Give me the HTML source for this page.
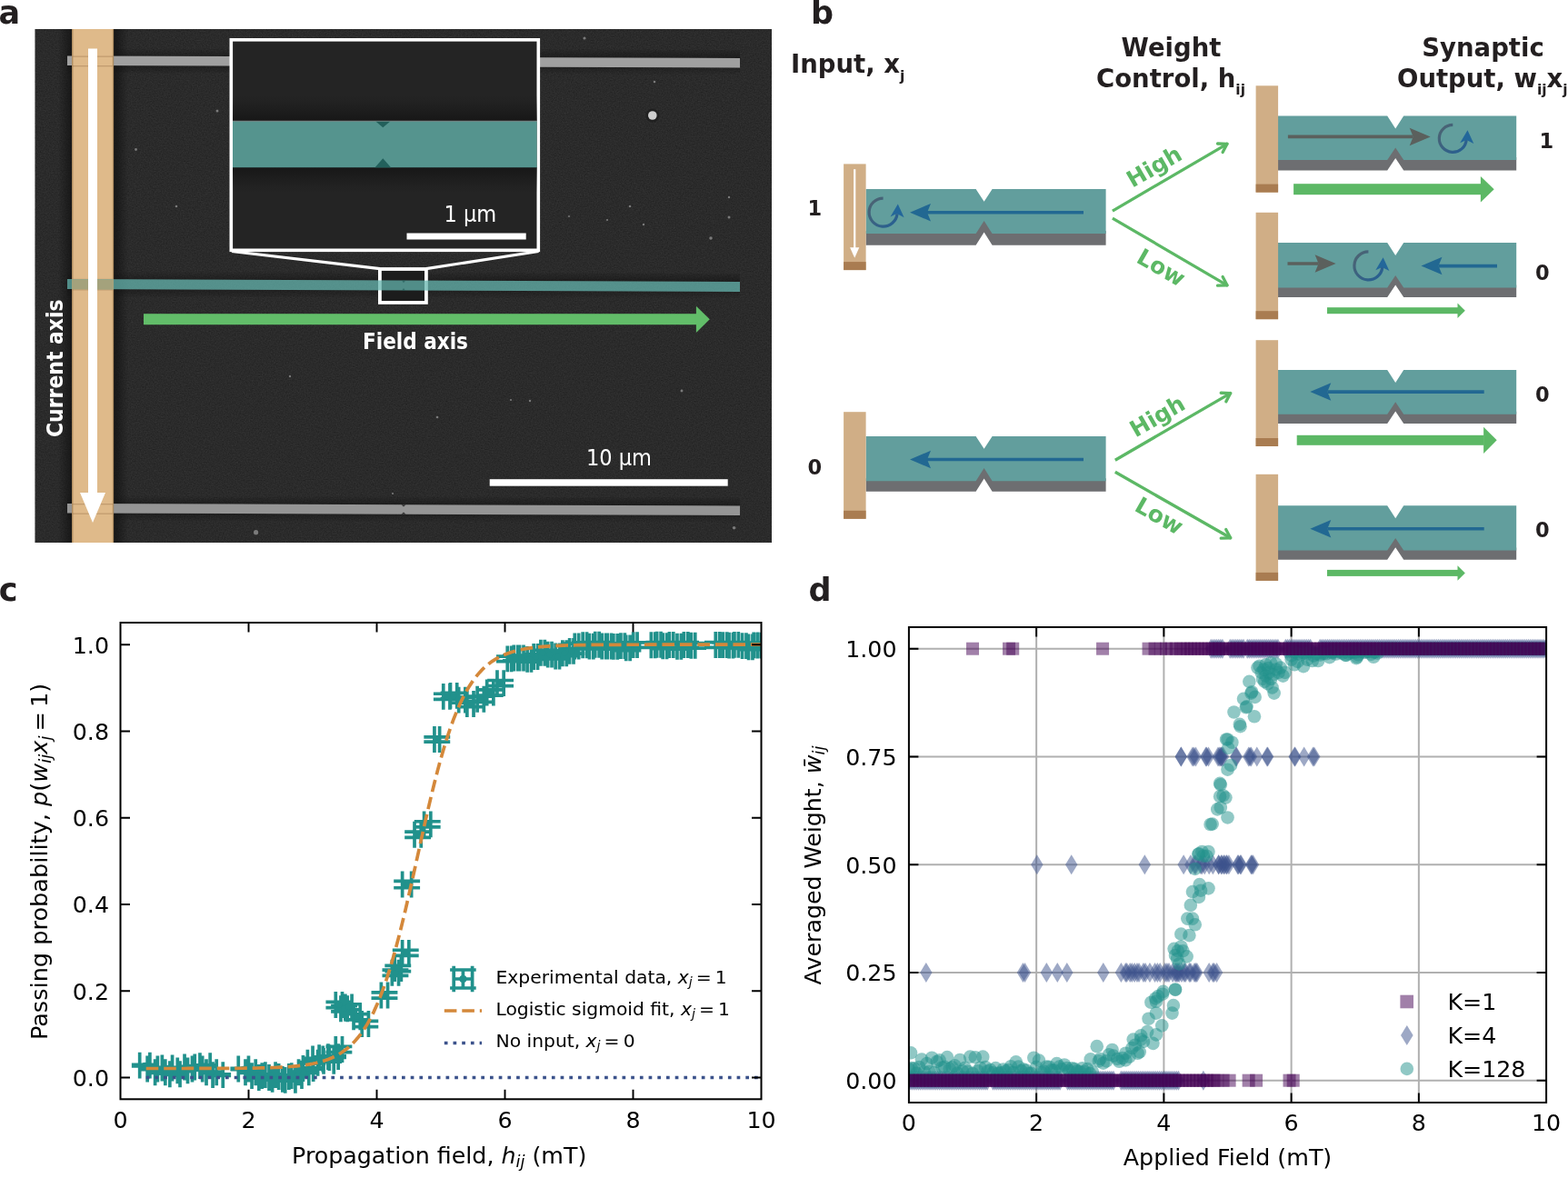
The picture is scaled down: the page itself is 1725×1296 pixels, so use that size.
<!DOCTYPE html>
<html><head><meta charset="utf-8"><title>Figure</title>
<style>html,body{margin:0;padding:0;background:#fff;width:1725px;height:1296px;overflow:hidden}svg{display:block}</style>
</head><body>
<svg width="1725" height="1296" viewBox="0 0 1725 1296">
<defs>
<linearGradient id="rotGrad" x1="0" y1="0" x2="1" y2="1">
<stop offset="0" stop-color="#4f6470"/><stop offset="1" stop-color="#245f94"/></linearGradient>
<linearGradient id="shadeL" x1="0" y1="0" x2="1" y2="0">
<stop offset="0" stop-color="#111" stop-opacity="0"/><stop offset="1" stop-color="#111" stop-opacity="0.75"/></linearGradient>
<linearGradient id="shadeR" x1="0" y1="0" x2="1" y2="0">
<stop offset="0" stop-color="#111" stop-opacity="0.8"/><stop offset="1" stop-color="#111" stop-opacity="0"/></linearGradient>
<linearGradient id="halo" x1="0" y1="0" x2="0" y2="1">
<stop offset="0" stop-color="#111" stop-opacity="0"/><stop offset="1" stop-color="#111" stop-opacity="0.55"/></linearGradient>
<linearGradient id="haloB" x1="0" y1="0" x2="0" y2="1">
<stop offset="0" stop-color="#111" stop-opacity="0.45"/><stop offset="1" stop-color="#111" stop-opacity="0"/></linearGradient>
<linearGradient id="insetShadeTop" x1="0" y1="0" x2="0" y2="1">
<stop offset="0" stop-color="#1b1b1b" stop-opacity="0"/><stop offset="1" stop-color="#151515" stop-opacity="0.9"/></linearGradient>
<linearGradient id="insetShadeBot" x1="0" y1="0" x2="0" y2="1">
<stop offset="0" stop-color="#151515" stop-opacity="0.9"/><stop offset="1" stop-color="#1b1b1b" stop-opacity="0"/></linearGradient>
<filter id="noiseF" x="0" y="0" width="100%" height="100%" color-interpolation-filters="sRGB">
<feTurbulence type="fractalNoise" baseFrequency="0.7" numOctaves="2" seed="4" result="t"/>
<feColorMatrix type="matrix" values="0.33 0.33 0.33 0 0  0.33 0.33 0.33 0 0  0.33 0.33 0.33 0 0  0 0 0 0 0.16"/>
</filter>
</defs>
<rect width="1725" height="1296" fill="#ffffff"/>
<text x="-1.5" y="25.6" font-family="'DejaVu Sans','Liberation Sans',sans-serif" font-weight="bold" font-size="35" fill="#231f20">a</text>
<rect x="38.5" y="32" width="810.5" height="565" fill="#1b1b1b"/>
<rect x="38.5" y="32" width="810.5" height="565" filter="url(#noiseF)"/>
<rect x="64" y="32" width="15" height="565" fill="url(#shadeL)"/>
<rect x="125" y="32" width="16" height="565" fill="url(#shadeR)"/>
<polygon points="74,52.5 814,55 814,64 74,61.5" fill="url(#halo)"/>
<polygon points="74,545 814,547.5 814,556.5 74,554" fill="url(#halo)"/>
<polygon points="74,298 814,301 814,310 74,307" fill="url(#halo)"/>
<polygon points="74,72 814,74.5 814,82.5 74,80" fill="url(#haloB)"/>
<polygon points="74,564.5 814,567 814,575 74,572.5" fill="url(#haloB)"/>
<polygon points="74,318 814,321 814,329 74,326" fill="url(#haloB)"/>
<polygon points="74,61.5 814,64 814,74.5 74,72" fill="#a0a0a0"/>
<polygon points="74,554 814,556.5 814,567 74,564.5" fill="#959595"/>
<polygon points="441.5,555.2 444,557.6 446.5,555.2" fill="#303030"/>
<polygon points="441.5,565.8 444,563.4 446.5,565.8" fill="#303030"/>
<rect x="79" y="32" width="46" height="565" fill="#dfba8a"/>
<rect x="79" y="32" width="1.4" height="565" fill="#9a7a50" opacity="0.7"/>
<rect x="123.8" y="32" width="1.4" height="565" fill="#9a7a50" opacity="0.7"/>
<rect x="80" y="61.5" width="44" height="1.3" fill="#a07850" opacity="0.45"/>
<rect x="80" y="72.0" width="44" height="1.3" fill="#a07850" opacity="0.45"/>
<rect x="80" y="306.8" width="44" height="1.3" fill="#a07850" opacity="0.45"/>
<rect x="80" y="318.2" width="44" height="1.3" fill="#a07850" opacity="0.45"/>
<rect x="80" y="554.0" width="44" height="1.3" fill="#a07850" opacity="0.45"/>
<rect x="80" y="564.5" width="44" height="1.3" fill="#a07850" opacity="0.45"/>
<rect x="417.9" y="296.0" width="51" height="36.9" fill="#1c1c1c" stroke="#ffffff" stroke-width="3.8"/>
<line x1="255" y1="276.5" x2="417.9" y2="295.6" stroke="#ffffff" stroke-width="3.2"/>
<line x1="592.5" y1="276.5" x2="468.9" y2="295.6" stroke="#ffffff" stroke-width="3.2"/>
<polygon points="74,307 814,310 814,321 74,318" fill="#64b5ae" opacity="0.74"/>
<polygon points="442,308.6 444,311.3 446,308.7" fill="#1f5955" opacity="0.6"/>
<polygon points="442,319.7 444,317.1 446,319.7" fill="#1f5955" opacity="0.6"/>
<polygon points="79,307.2 125,307.4 125,318.4 79,318.2" fill="#a4a27c"/>
<rect x="97" y="53.5" width="10" height="492" fill="#ffffff"/>
<polygon points="88,542 116,542 102,575" fill="#ffffff"/>
<rect x="158" y="345.2" width="608.5" height="12" fill="#62bd69"/>
<polygon points="765.9,336.8 780.8,351.2 765.9,365.9" fill="#62bd69"/>
<text transform="translate(69.1,481) rotate(-90)" font-family="'DejaVu Sans Condensed','DejaVu Sans','Liberation Sans',sans-serif" font-weight="bold" font-size="24.4" fill="#ffffff">Current axis</text>
<text x="399" y="383.6" font-family="'DejaVu Sans Condensed','DejaVu Sans','Liberation Sans',sans-serif" font-weight="bold" font-size="24" fill="#ffffff">Field axis</text>
<text x="645" y="512.2" font-family="'DejaVu Sans Condensed','DejaVu Sans','Liberation Sans',sans-serif" font-size="25" fill="#ffffff">10 µm</text>
<rect x="538.7" y="527.2" width="262" height="7.5" fill="#ffffff"/>
<rect x="254.3" y="43.8" width="338" height="231.5" fill="#242424" stroke="#ffffff" stroke-width="3.6"/>
<rect x="256" y="105" width="334.6" height="28" fill="url(#insetShadeTop)"/>
<rect x="256" y="184" width="334.6" height="28" fill="url(#insetShadeBot)"/>
<polygon points="256,133.2 590.6,133.2 590.6,184.2 256,184.2" fill="#55948e"/>
<polygon points="413,133.2 421.3,140.2 429.6,133.2" fill="#22605b"/>
<polygon points="412.5,184.2 421.3,174.2 430,184.2" fill="#22605b"/>
<rect x="256" y="132.6" width="334.6" height="1.2" fill="#9a9a9a" opacity="0.55"/>
<text x="488.5" y="244" font-family="'DejaVu Sans Condensed','DejaVu Sans','Liberation Sans',sans-serif" font-size="25" fill="#ffffff">1 µm</text>
<rect x="447.5" y="256.5" width="131.2" height="7" fill="#ffffff"/>
<circle cx="717.8" cy="127" r="7.5" fill="#1a1a1a" opacity="0.6"/>
<circle cx="717.8" cy="127" r="4.8" fill="#cfcfcf"/>
<circle cx="643" cy="42" r="1.6" fill="#8e8e8e" opacity="0.8"/>
<circle cx="720" cy="90" r="1.3" fill="#8e8e8e" opacity="0.8"/>
<circle cx="239" cy="122" r="1.5" fill="#8e8e8e" opacity="0.8"/>
<circle cx="149.5" cy="164.5" r="1.4" fill="#8e8e8e" opacity="0.8"/>
<circle cx="194" cy="227" r="1.3" fill="#8e8e8e" opacity="0.8"/>
<circle cx="802" cy="239" r="1.5" fill="#8e8e8e" opacity="0.8"/>
<circle cx="782" cy="262" r="1.8" fill="#8e8e8e" opacity="0.8"/>
<circle cx="802" cy="217" r="1.2" fill="#8e8e8e" opacity="0.8"/>
<circle cx="693" cy="227" r="1.3" fill="#8e8e8e" opacity="0.8"/>
<circle cx="708" cy="247" r="1.2" fill="#8e8e8e" opacity="0.8"/>
<circle cx="750" cy="430" r="1.4" fill="#8e8e8e" opacity="0.8"/>
<circle cx="583" cy="441" r="1.2" fill="#8e8e8e" opacity="0.8"/>
<circle cx="481" cy="459" r="1.3" fill="#8e8e8e" opacity="0.8"/>
<circle cx="319" cy="414" r="1.2" fill="#8e8e8e" opacity="0.8"/>
<circle cx="281.6" cy="585.7" r="2.6" fill="#8e8e8e" opacity="0.8"/>
<circle cx="807.6" cy="580.8" r="1.8" fill="#8e8e8e" opacity="0.8"/>
<circle cx="668" cy="242" r="1.1" fill="#8e8e8e" opacity="0.8"/>
<circle cx="626" cy="238" r="1.0" fill="#8e8e8e" opacity="0.8"/>
<circle cx="432" cy="543" r="1.1" fill="#8e8e8e" opacity="0.8"/>
<circle cx="562" cy="440" r="1.1" fill="#8e8e8e" opacity="0.8"/>
<text x="892" y="25.6" font-family="'DejaVu Sans','Liberation Sans',sans-serif" font-weight="bold" font-size="35" fill="#231f20">b</text>
<text x="870" y="80.3" font-family="'DejaVu Sans','Liberation Sans',sans-serif" font-weight="bold" fill="#231f20" font-size="27.5">Input, x<tspan font-size="15.5" dy="8.3">j</tspan></text>
<text x="1288.5" y="62.4" text-anchor="middle" font-family="'DejaVu Sans','Liberation Sans',sans-serif" font-weight="bold" fill="#231f20" font-size="27.5">Weight</text>
<text x="1288" y="95.9" text-anchor="middle" font-family="'DejaVu Sans','Liberation Sans',sans-serif" font-weight="bold" fill="#231f20" font-size="27.5">Control, h<tspan font-size="15.5" dy="8">ij</tspan></text>
<text x="1631.5" y="62.4" text-anchor="middle" font-family="'DejaVu Sans','Liberation Sans',sans-serif" font-weight="bold" fill="#231f20" font-size="27.5">Synaptic</text>
<text x="1537" y="95.9" font-family="'DejaVu Sans','Liberation Sans',sans-serif" font-weight="bold" fill="#231f20" font-size="27.5">Output, w<tspan font-size="15.5" dy="8">ij</tspan><tspan dy="-8">x</tspan><tspan font-size="15.5" dy="8">j</tspan></text>
<polygon points="952.6,254.1 1073.6,254.1 1082.6,239.9 1091.6,254.1 1216.6,254.1 1216.6,269.7 1091.6,269.7 1082.6,255.5 1073.6,269.7 952.6,269.7" fill="#6d6e71"/>
<polygon points="952.6,208.1 1073.6,208.1 1082.6,221.8 1091.6,208.1 1216.6,208.1 1216.6,257.1 1091.6,257.1 1082.6,242.9 1073.6,257.1 952.6,257.1" fill="#629e9d"/>
<rect x="928.1" y="180.4" width="24.5" height="116.7" fill="#d0ae86"/>
<rect x="928.1" y="288.1" width="24.5" height="9" fill="#a97c51"/>
<text x="888.5" y="237.3" font-family="'DejaVu Sans','Liberation Sans',sans-serif" font-weight="bold" fill="#231f20" font-size="22.5">1</text>
<line x1="1192" y1="233.7" x2="1020" y2="233.7" stroke="#226892" stroke-width="3.6"/>
<polygon points="1001,233.7 1024,223.95 1020,233.7 1024,243.45" fill="#226892"/>
<polygon points="952.6,526.2 1073.6,526.2 1082.6,512 1091.6,526.2 1216.6,526.2 1216.6,540.7 1091.6,540.7 1082.6,526.5 1073.6,540.7 952.6,540.7" fill="#6d6e71"/>
<polygon points="952.6,480 1073.6,480 1082.6,493.7 1091.6,480 1216.6,480 1216.6,529.2 1091.6,529.2 1082.6,515 1073.6,529.2 952.6,529.2" fill="#629e9d"/>
<rect x="928.1" y="453.2" width="24.5" height="117.6" fill="#d0ae86"/>
<rect x="928.1" y="561.8" width="24.5" height="9" fill="#a97c51"/>
<text x="888.5" y="522" font-family="'DejaVu Sans','Liberation Sans',sans-serif" font-weight="bold" fill="#231f20" font-size="22.5">0</text>
<line x1="1192" y1="505.5" x2="1020" y2="505.5" stroke="#226892" stroke-width="3.6"/>
<polygon points="1001,505.5 1024,495.75 1020,505.5 1024,515.25" fill="#226892"/>
<line x1="940.2" y1="186.2" x2="940.2" y2="276" stroke="#ffffff" stroke-width="2.2"/>
<polygon points="935.1,272.3 940.2,283.8 945.3,272.3" fill="#ffffff"/>
<path d="M 971.6 218.1 A 15.5 15.5 0 1 0 987.02 235.22" fill="none" stroke="url(#rotGrad)" stroke-width="3.2"/>
<polygon points="987.8,224.4 979.5,238.4 986.6,235.1 994.6,239.2" fill="#23679a"/>
<line x1="1223.9" y1="232.1" x2="1350" y2="158.3" stroke="#5cb865" stroke-width="3.3"/>
<line x1="1350" y1="158.3" x2="1339.5" y2="158" stroke="#5cb865" stroke-width="3.3" stroke-linecap="round"/>
<line x1="1350" y1="158.3" x2="1345.13" y2="167.6" stroke="#5cb865" stroke-width="3.3" stroke-linecap="round"/>
<line x1="1223.9" y1="240.1" x2="1350" y2="313.8" stroke="#5cb865" stroke-width="3.3"/>
<line x1="1350" y1="313.8" x2="1345.12" y2="304.5" stroke="#5cb865" stroke-width="3.3" stroke-linecap="round"/>
<line x1="1350" y1="313.8" x2="1339.5" y2="314.11" stroke="#5cb865" stroke-width="3.3" stroke-linecap="round"/>
<line x1="1226.8" y1="506.2" x2="1353.7" y2="432.6" stroke="#5cb865" stroke-width="3.3"/>
<line x1="1353.7" y1="432.6" x2="1343.21" y2="432.25" stroke="#5cb865" stroke-width="3.3" stroke-linecap="round"/>
<line x1="1353.7" y1="432.6" x2="1348.79" y2="441.88" stroke="#5cb865" stroke-width="3.3" stroke-linecap="round"/>
<line x1="1226.8" y1="519.3" x2="1353.7" y2="591.8" stroke="#5cb865" stroke-width="3.3"/>
<line x1="1353.7" y1="591.8" x2="1348.73" y2="582.55" stroke="#5cb865" stroke-width="3.3" stroke-linecap="round"/>
<line x1="1353.7" y1="591.8" x2="1343.21" y2="592.21" stroke="#5cb865" stroke-width="3.3" stroke-linecap="round"/>
<text transform="translate(1274,190.8) rotate(-30)" font-family="'DejaVu Sans','Liberation Sans',sans-serif" font-weight="bold" fill="#5cb865" font-size="25" text-anchor="middle">High</text>
<text transform="translate(1273.2,301.9) rotate(30)" font-family="'DejaVu Sans','Liberation Sans',sans-serif" font-weight="bold" fill="#5cb865" font-size="25" text-anchor="middle">Low</text>
<text transform="translate(1277.5,465.5) rotate(-30)" font-family="'DejaVu Sans','Liberation Sans',sans-serif" font-weight="bold" fill="#5cb865" font-size="25" text-anchor="middle">High</text>
<text transform="translate(1271,575) rotate(30)" font-family="'DejaVu Sans','Liberation Sans',sans-serif" font-weight="bold" fill="#5cb865" font-size="25" text-anchor="middle">Low</text>
<polygon points="1406,173 1526.2,173 1535.2,159.5 1544.2,173 1668.2,173 1668.2,187.5 1544.2,187.5 1535.2,174 1526.2,187.5 1406,187.5" fill="#6d6e71"/>
<polygon points="1406,127.6 1526.2,127.6 1535.2,141.6 1544.2,127.6 1668.2,127.6 1668.2,176 1544.2,176 1535.2,162.5 1526.2,176 1406,176" fill="#629e9d"/>
<rect x="1381.6" y="94.3" width="24.5" height="117.3" fill="#d0ae86"/>
<rect x="1381.6" y="202.6" width="24.5" height="9" fill="#a97c51"/>
<polygon points="1406,313.4 1526.2,313.4 1535.2,299.9 1544.2,313.4 1668.2,313.4 1668.2,326.9 1544.2,326.9 1535.2,313.4 1526.2,326.9 1406,326.9" fill="#6d6e71"/>
<polygon points="1406,267 1526.2,267 1535.2,281 1544.2,267 1668.2,267 1668.2,316.4 1544.2,316.4 1535.2,302.9 1526.2,316.4 1406,316.4" fill="#629e9d"/>
<rect x="1381.6" y="233.8" width="24.5" height="117.4" fill="#d0ae86"/>
<rect x="1381.6" y="342.2" width="24.5" height="9" fill="#a97c51"/>
<polygon points="1406,452.7 1526.2,452.7 1535.2,439.2 1544.2,452.7 1668.2,452.7 1668.2,466.1 1544.2,466.1 1535.2,452.6 1526.2,466.1 1406,466.1" fill="#6d6e71"/>
<polygon points="1406,407 1526.2,407 1535.2,421 1544.2,407 1668.2,407 1668.2,455.7 1544.2,455.7 1535.2,442.2 1526.2,455.7 1406,455.7" fill="#629e9d"/>
<rect x="1381.6" y="374.2" width="24.5" height="116.8" fill="#d0ae86"/>
<rect x="1381.6" y="482" width="24.5" height="9" fill="#a97c51"/>
<polygon points="1406,602.5 1526.2,602.5 1535.2,589 1544.2,602.5 1668.2,602.5 1668.2,615.8 1544.2,615.8 1535.2,602.3 1526.2,615.8 1406,615.8" fill="#6d6e71"/>
<polygon points="1406,556.2 1526.2,556.2 1535.2,570.2 1544.2,556.2 1668.2,556.2 1668.2,605.5 1544.2,605.5 1535.2,592 1526.2,605.5 1406,605.5" fill="#629e9d"/>
<rect x="1381.6" y="521.8" width="24.5" height="117.1" fill="#d0ae86"/>
<rect x="1381.6" y="629.9" width="24.5" height="9" fill="#a97c51"/>
<line x1="1416.9" y1="150.4" x2="1554.7" y2="150.4" stroke="#5b605d" stroke-width="3.6"/>
<polygon points="1573.7,150.4 1550.7,140.65 1554.7,150.4 1550.7,160.15" fill="#5b605d"/>
<path d="M 1598.3 137.4 A 15 15 0 1 0 1613.22 153.97" fill="none" stroke="url(#rotGrad)" stroke-width="3.2"/>
<polygon points="1614.5,143.2 1606.2,157.2 1613.3,153.9 1621.3,158" fill="#23679a"/>
<rect x="1423.1" y="202.2" width="206.3" height="12" fill="#5cb865"/>
<polygon points="1628.9,193.95 1643.7,208.2 1628.9,222.45" fill="#5cb865"/>
<line x1="1416.5" y1="290" x2="1450.6" y2="290" stroke="#5b605d" stroke-width="3.6"/>
<polygon points="1469.6,290 1446.6,280.25 1450.6,290 1446.6,299.75" fill="#5b605d"/>
<path d="M 1505.4 276.9 A 15.5 15.5 0 1 0 1520.82 294.02" fill="none" stroke="url(#rotGrad)" stroke-width="3.2"/>
<polygon points="1521.6,283.2 1513.3,297.2 1520.4,293.9 1528.4,298" fill="#23679a"/>
<line x1="1647" y1="292.6" x2="1582.5" y2="292.6" stroke="#226892" stroke-width="3.6"/>
<polygon points="1563.5,292.6 1586.5,282.85 1582.5,292.6 1586.5,302.35" fill="#226892"/>
<rect x="1460" y="338.2" width="144" height="7" fill="#5cb865"/>
<polygon points="1603.5,333.45 1611.8,341.7 1603.5,349.95" fill="#5cb865"/>
<line x1="1632.7" y1="431.1" x2="1460.3" y2="431.1" stroke="#226892" stroke-width="3.6"/>
<polygon points="1441.3,431.1 1464.3,421.35 1460.3,431.1 1464.3,440.85" fill="#226892"/>
<rect x="1426.7" y="478.8" width="205.9" height="11" fill="#5cb865"/>
<polygon points="1632.1,469.65 1646.7,484.3 1632.1,498.95" fill="#5cb865"/>
<line x1="1632.7" y1="581.7" x2="1460.3" y2="581.7" stroke="#226892" stroke-width="3.6"/>
<polygon points="1441.3,581.7 1464.3,571.95 1460.3,581.7 1464.3,591.45" fill="#226892"/>
<rect x="1460" y="626.9" width="144" height="7" fill="#5cb865"/>
<polygon points="1603.5,622.15 1611.8,630.4 1603.5,638.65" fill="#5cb865"/>
<text x="1693.5" y="162.8" font-family="'DejaVu Sans','Liberation Sans',sans-serif" font-weight="bold" fill="#231f20" font-size="22.5">1</text>
<text x="1689" y="308" font-family="'DejaVu Sans','Liberation Sans',sans-serif" font-weight="bold" fill="#231f20" font-size="22.5">0</text>
<text x="1689" y="442.3" font-family="'DejaVu Sans','Liberation Sans',sans-serif" font-weight="bold" fill="#231f20" font-size="22.5">0</text>
<text x="1689" y="590.8" font-family="'DejaVu Sans','Liberation Sans',sans-serif" font-weight="bold" fill="#231f20" font-size="22.5">0</text>
<text x="-1.3" y="661.3" font-family="'DejaVu Sans','Liberation Sans',sans-serif" font-weight="bold" font-size="35" fill="#231f20">c</text>
<clipPath id="clipC"><rect x="132.5" y="685" width="705" height="524.3"/></clipPath>
<g clip-path="url(#clipC)">
<path d="M153.69 1172.16H164.89M153.69 1157.71V1186.61M164.89 1157.71V1186.61M159.29 1171.46V1172.86M144.84 1171.46H173.74M144.84 1172.86H173.74M162.15 1175.97H173.35M162.15 1161.52V1190.42M173.35 1161.52V1190.42M167.75 1175.27V1176.67M153.3 1175.27H182.2M153.3 1176.67H182.2M170.61 1179.78H181.81M170.61 1165.33V1194.23M181.81 1165.33V1194.23M176.21 1179.08V1180.48M161.76 1179.08H190.66M161.76 1180.48H190.66M178.37 1175.02H189.56M178.37 1160.57V1189.47M189.56 1160.57V1189.47M183.97 1174.32V1175.72M169.52 1174.32H198.41M169.52 1175.72H198.41M186.83 1181.69H198.03M186.83 1167.24V1196.14M198.03 1167.24V1196.14M192.43 1180.99V1182.39M177.98 1180.99H206.88M177.98 1182.39H206.88M195.28 1177.88H206.48M195.28 1163.43V1192.33M206.48 1163.43V1192.33M200.88 1177.18V1178.58M186.44 1177.18H215.33M186.44 1178.58H215.33M203.04 1174.07H214.24M203.04 1159.62V1188.52M214.24 1159.62V1188.52M208.64 1173.37V1174.77M194.19 1173.37H223.09M194.19 1174.77H223.09M211.5 1175.97H222.7M211.5 1161.52V1190.42M222.7 1161.52V1190.42M217.1 1175.27V1176.67M202.65 1175.27H231.55M202.65 1176.67H231.55M219.96 1172.64H231.16M219.96 1158.19V1187.09M231.16 1158.19V1187.09M225.56 1171.94V1173.34M211.11 1171.94H240.01M211.11 1173.34H240.01M227.01 1179.78H238.21M227.01 1165.33V1194.23M238.21 1165.33V1194.23M232.61 1179.08V1180.48M218.16 1179.08H247.06M218.16 1180.48H247.06M234.06 1182.64H245.26M234.06 1168.19V1197.09M245.26 1168.19V1197.09M239.66 1181.94V1183.34M225.21 1181.94H254.11M225.21 1183.34H254.11M262.26 1175.97H273.46M262.26 1161.52V1190.42M273.46 1161.52V1190.42M267.86 1175.27V1176.67M253.41 1175.27H282.31M253.41 1176.67H282.31M270.01 1179.78H281.22M270.01 1165.33V1194.23M281.22 1165.33V1194.23M275.62 1179.08V1180.48M261.17 1179.08H290.06M261.17 1180.48H290.06M277.06 1183.59H288.26M277.06 1169.14V1198.04M288.26 1169.14V1198.04M282.66 1182.89V1184.29M268.21 1182.89H297.11M268.21 1184.29H297.11M284.82 1185.5H296.02M284.82 1171.05V1199.95M296.02 1171.05V1199.95M290.42 1184.8V1186.2M275.97 1184.8H304.87M275.97 1186.2H304.87M291.87 1182.64H303.07M291.87 1168.19V1197.09M303.07 1168.19V1197.09M297.47 1181.94V1183.34M283.02 1181.94H311.92M283.02 1183.34H311.92M299.62 1187.41H310.83M299.62 1172.96V1201.86M310.83 1172.96V1201.86M305.23 1186.71V1188.11M290.78 1186.71H319.68M290.78 1188.11H319.68M306.67 1184.55H317.88M306.67 1170.1V1199M317.88 1170.1V1199M312.27 1183.85V1185.25M297.82 1183.85H326.72M297.82 1185.25H326.72M313.72 1188.36H324.93M313.72 1173.91V1202.81M324.93 1173.91V1202.81M319.32 1187.66V1189.06M304.88 1187.66H333.77M304.88 1189.06H333.77M320.77 1183.59H331.98M320.77 1169.14V1198.04M331.98 1169.14V1198.04M326.38 1182.89V1184.29M311.93 1182.89H340.82M311.93 1184.29H340.82M328.53 1179.78H339.73M328.53 1165.33V1194.23M339.73 1165.33V1194.23M334.13 1179.08V1180.48M319.68 1179.08H348.58M319.68 1180.48H348.58M333.46 1175.5H344.67M333.46 1161.05V1189.95M344.67 1161.05V1189.95M339.06 1174.8V1176.2M324.62 1174.8H353.51M324.62 1176.2H353.51M338.4 1169.31H349.6M338.4 1154.86V1183.76M349.6 1154.86V1183.76M344 1168.61V1170.01M329.55 1168.61H358.45M329.55 1170.01H358.45M344.04 1165.02H355.24M344.04 1150.57V1179.47M355.24 1150.57V1179.47M349.64 1164.32V1165.72M335.19 1164.32H364.09M335.19 1165.72H364.09M351.09 1163.59H362.29M351.09 1149.14V1178.04M362.29 1149.14V1178.04M356.69 1162.89V1164.29M342.24 1162.89H371.14M342.24 1164.29H371.14M356.02 1167.4H367.23M356.02 1152.95V1181.85M367.23 1152.95V1181.85M361.62 1166.7V1168.1M347.18 1166.7H376.07M347.18 1168.1H376.07M360.96 1162.64H372.16M360.96 1148.19V1177.09M372.16 1148.19V1177.09M366.56 1161.94V1163.34M352.11 1161.94H381.01M352.11 1163.34H381.01M369.3 1154.54H376.5M369.3 1140.09V1168.99M376.5 1140.09V1168.99M372.9 1151.44V1157.64M358.45 1151.44H387.35M358.45 1157.64H387.35M369.3 1105.48H376.5M369.3 1091.03V1119.93M376.5 1091.03V1119.93M372.9 1102.38V1108.58M358.45 1102.38H387.35M358.45 1108.58H387.35M374.94 1109.77H382.15M374.94 1095.32V1124.22M382.15 1095.32V1124.22M378.55 1106.67V1112.87M364.1 1106.67H393M364.1 1112.87H393M379.88 1107.86H387.08M379.88 1093.41V1122.31M387.08 1093.41V1122.31M383.48 1104.76V1110.96M369.03 1104.76H397.93M369.03 1110.96H397.93M389.04 1118.82H396.25M389.04 1104.37V1133.27M396.25 1104.37V1133.27M392.64 1115.72V1121.92M378.19 1115.72H407.09M378.19 1121.92H407.09M398.21 1126.44H405.41M398.21 1111.99V1140.89M405.41 1111.99V1140.89M401.81 1123.34V1129.54M387.36 1123.34H416.26M387.36 1129.54H416.26M419.36 1095H426.56M419.36 1080.55V1109.45M426.56 1080.55V1109.45M422.96 1091.9V1098.1M408.51 1091.9H437.41M408.51 1098.1H437.41M431.34 1070.24H438.55M431.34 1055.79V1084.69M438.55 1055.79V1084.69M434.94 1067.14V1073.34M420.5 1067.14H449.39M420.5 1073.34H449.39M434.16 1065.47H441.37M434.16 1051.02V1079.92M441.37 1051.02V1079.92M437.76 1062.37V1068.57M423.31 1062.37H452.21M423.31 1068.57H452.21M442.62 1048.33H449.83M442.62 1033.88V1062.78M449.83 1033.88V1062.78M446.23 1045.23V1051.43M431.78 1045.23H460.68M431.78 1051.43H460.68M442.63 973.07H452.63M442.63 958.62V987.52M452.63 958.62V987.52M447.63 969.37V976.77M433.19 969.37H462.08M433.19 976.77H462.08M456.02 918.3H463.22M456.02 903.85V932.75M463.22 903.85V932.75M459.62 915.2V921.4M445.17 915.2H474.07M445.17 921.4H474.07M466.59 906.86H473.8M466.59 892.41V921.31M473.8 892.41V921.31M470.19 903.76V909.96M455.75 903.76H484.64M455.75 909.96H484.64M477.92 813.51H483.62M477.92 799.06V827.96M483.62 799.06V827.96M480.77 810.86V816.16M466.32 810.86H495.22M466.32 816.16H495.22M487.74 766.36H494.94M487.74 751.91V780.81M494.94 751.91V780.81M491.34 763.26V769.46M476.89 763.26H505.79M476.89 769.46H505.79M495.5 765.4H502.7M495.5 750.95V779.85M502.7 750.95V779.85M499.1 762.3V768.5M484.65 762.3H513.55M484.65 768.5H513.55M504.66 770.17H511.87M504.66 755.72V784.62M511.87 755.72V784.62M508.26 767.07V773.27M493.81 767.07H522.72M493.81 773.27H522.72M513.83 774.45H521.03M513.83 760V788.9M521.03 760V788.9M517.43 771.35V777.55M502.98 771.35H531.88M502.98 777.55H531.88M525.11 769.21H532.31M525.11 754.76V783.66M532.31 754.76V783.66M528.71 766.11V772.31M514.26 766.11H543.16M514.26 772.31H543.16M535.68 762.07H542.88M535.68 747.62V776.52M542.88 747.62V776.52M539.28 758.97V765.17M524.83 758.97H553.74M524.83 765.17H553.74M546.97 751.59H554.17M546.97 737.14V766.04M554.17 737.14V766.04M550.57 748.49V754.69M536.12 748.49H565.02M536.12 754.69H565.02M558.23 724.92H562.63M558.23 710.47V739.37M562.63 710.47V739.37M560.43 722.12V727.72M545.98 722.12H574.88M545.98 727.72H574.88M565.28 723.97H569.69M565.28 709.52V738.42M569.69 709.52V738.42M567.49 721.17V726.77M553.03 721.17H581.94M553.03 726.77H581.94M571.63 723.97H576.03M571.63 709.52V738.42M576.03 709.52V738.42M573.83 721.17V726.77M559.38 721.17H588.28M559.38 726.77H588.28M580.09 725.39H584.49M580.09 710.94V739.84M584.49 710.94V739.84M582.29 722.59V728.19M567.84 722.59H596.74M567.84 728.19H596.74M587.14 722.54H591.54M587.14 708.09V736.99M591.54 708.09V736.99M589.34 719.74V725.34M574.89 719.74H603.79M574.89 725.34H603.79M594.89 718.25H599.3M594.89 703.8V732.7M599.3 703.8V732.7M597.1 715.45V721.05M582.64 715.45H611.55M582.64 721.05H611.55M602.65 720.15H607.05M602.65 705.7V734.6M607.05 705.7V734.6M604.85 717.35V722.95M590.4 717.35H619.3M590.4 722.95H619.3M611.11 722.06H615.51M611.11 707.61V736.51M615.51 707.61V736.51M613.31 719.26V724.86M598.86 719.26H627.76M598.86 724.86H627.76M618.87 718.73H623.27M618.87 704.28V733.18M623.27 704.28V733.18M621.07 715.93V721.53M606.62 715.93H635.52M606.62 721.53H635.52M626.62 716.34H631.02M626.62 701.89V730.79M631.02 701.89V730.79M628.82 713.54V719.14M614.37 713.54H643.27M614.37 719.14H643.27M632.26 710.95H636.66M632.26 696.5V725.4M636.66 696.5V725.4M634.46 708.15V713.75M620.01 708.15H648.91M620.01 713.75H648.91M641.16 709.74H645.56M641.16 695.29V724.19M645.56 695.29V724.19M643.36 706.94V712.54M628.91 706.94H657.81M628.91 712.54H657.81M648.44 711.1H652.84M648.44 696.65V725.55M652.84 696.65V725.55M650.64 708.3V713.9M636.19 708.3H665.09M636.19 713.9H665.09M654.73 709.29H659.13M654.73 694.84V723.74M659.13 694.84V723.74M656.93 706.49V712.09M642.48 706.49H671.38M642.48 712.09H671.38M662.17 710.94H666.57M662.17 696.49V725.39M666.57 696.49V725.39M664.37 708.14V713.74M649.92 708.14H678.82M649.92 713.74H678.82M668.15 711.05H672.55M668.15 696.6V725.5M672.55 696.6V725.5M670.35 708.25V713.85M655.9 708.25H684.8M655.9 713.85H684.8M674.86 711.39H679.26M674.86 696.94V725.84M679.26 696.94V725.84M677.06 708.59V714.19M662.61 708.59H691.51M662.61 714.19H691.51M682.94 710.6H687.34M682.94 696.15V725.05M687.34 696.15V725.05M685.14 707.8V713.4M670.69 707.8H699.59M670.69 713.4H699.59M688.73 712.87H693.13M688.73 698.42V727.32M693.13 698.42V727.32M690.93 710.07V715.67M676.48 710.07H705.38M676.48 715.67H705.38M696.67 709.61H701.07M696.67 695.16V724.06M701.07 695.16V724.06M698.87 706.81V712.41M684.42 706.81H713.32M684.42 712.41H713.32M716.37 709.69H720.77M716.37 695.24V724.14M720.77 695.24V724.14M718.57 706.89V712.49M704.12 706.89H733.02M704.12 712.49H733.02M722.68 709.29H727.08M722.68 694.84V723.74M727.08 694.84V723.74M724.88 706.49V712.09M710.43 706.49H739.33M710.43 712.09H739.33M729.17 710.77H733.57M729.17 696.32V725.22M733.57 696.32V725.22M731.37 707.97V713.57M716.92 707.97H745.82M716.92 713.57H745.82M736.37 709.5H740.77M736.37 695.05V723.95M740.77 695.05V723.95M738.57 706.7V712.3M724.12 706.7H753.02M724.12 712.3H753.02M744.98 711.23H749.38M744.98 696.78V725.68M749.38 696.78V725.68M747.18 708.43V714.03M732.73 708.43H761.63M732.73 714.03H761.63M752.38 709.44H756.78M752.38 694.99V723.89M756.78 694.99V723.89M754.58 706.64V712.24M740.13 706.64H769.03M740.13 712.24H769.03M760.35 710.31H764.75M760.35 695.86V724.76M764.75 695.86V724.76M762.55 707.51V713.11M748.1 707.51H777M748.1 713.11H777M787.26 709.51H791.66M787.26 695.06V723.96M791.66 695.06V723.96M789.46 706.71V712.31M775.01 706.71H803.91M775.01 712.31H803.91M795.4 709.61H799.8M795.4 695.16V724.06M799.8 695.16V724.06M797.6 706.81V712.41M783.15 706.81H812.05M783.15 712.41H812.05M802.06 710.15H806.46M802.06 695.7V724.6M806.46 695.7V724.6M804.26 707.35V712.95M789.81 707.35H818.71M789.81 712.95H818.71M807.94 709.35H812.34M807.94 694.9V723.8M812.34 694.9V723.8M810.14 706.55V712.15M795.69 706.55H824.59M795.69 712.15H824.59M816.57 710.64H820.97M816.57 696.19V725.09M820.97 696.19V725.09M818.77 707.84V713.44M804.32 707.84H833.22M804.32 713.44H833.22M823.57 711.87H827.97M823.57 697.42V726.32M827.97 697.42V726.32M825.77 709.07V714.67M811.32 709.07H840.22M811.32 714.67H840.22M829.21 709.92H833.61M829.21 695.47V724.37M833.61 695.47V724.37M831.41 707.12V712.72M816.96 707.12H845.86M816.96 712.72H845.86M833.18 710.15H837.59M833.18 695.7V724.6M837.59 695.7V724.6M835.38 707.35V712.95M820.93 707.35H849.84M820.93 712.95H849.84" stroke="#21918c" stroke-width="3.7" fill="none"/>
<g fill="#21918c"><circle cx="159.29" cy="1172.16" r="3.3"/><circle cx="167.75" cy="1175.97" r="3.3"/><circle cx="176.21" cy="1179.78" r="3.3"/><circle cx="183.97" cy="1175.02" r="3.3"/><circle cx="192.43" cy="1181.69" r="3.3"/><circle cx="200.88" cy="1177.88" r="3.3"/><circle cx="208.64" cy="1174.07" r="3.3"/><circle cx="217.1" cy="1175.97" r="3.3"/><circle cx="225.56" cy="1172.64" r="3.3"/><circle cx="232.61" cy="1179.78" r="3.3"/><circle cx="239.66" cy="1182.64" r="3.3"/><circle cx="267.86" cy="1175.97" r="3.3"/><circle cx="275.62" cy="1179.78" r="3.3"/><circle cx="282.66" cy="1183.59" r="3.3"/><circle cx="290.42" cy="1185.5" r="3.3"/><circle cx="297.47" cy="1182.64" r="3.3"/><circle cx="305.23" cy="1187.41" r="3.3"/><circle cx="312.27" cy="1184.55" r="3.3"/><circle cx="319.32" cy="1188.36" r="3.3"/><circle cx="326.38" cy="1183.59" r="3.3"/><circle cx="334.13" cy="1179.78" r="3.3"/><circle cx="339.06" cy="1175.5" r="3.3"/><circle cx="344" cy="1169.31" r="3.3"/><circle cx="349.64" cy="1165.02" r="3.3"/><circle cx="356.69" cy="1163.59" r="3.3"/><circle cx="361.62" cy="1167.4" r="3.3"/><circle cx="366.56" cy="1162.64" r="3.3"/><circle cx="372.9" cy="1154.54" r="3.3"/><circle cx="372.9" cy="1105.48" r="3.3"/><circle cx="378.55" cy="1109.77" r="3.3"/><circle cx="383.48" cy="1107.86" r="3.3"/><circle cx="392.64" cy="1118.82" r="3.3"/><circle cx="401.81" cy="1126.44" r="3.3"/><circle cx="422.96" cy="1095" r="3.3"/><circle cx="434.94" cy="1070.24" r="3.3"/><circle cx="437.76" cy="1065.47" r="3.3"/><circle cx="446.23" cy="1048.33" r="3.3"/><circle cx="447.63" cy="973.07" r="3.3"/><circle cx="459.62" cy="918.3" r="3.3"/><circle cx="470.19" cy="906.86" r="3.3"/><circle cx="480.77" cy="813.51" r="3.3"/><circle cx="491.34" cy="766.36" r="3.3"/><circle cx="499.1" cy="765.4" r="3.3"/><circle cx="508.26" cy="770.17" r="3.3"/><circle cx="517.43" cy="774.45" r="3.3"/><circle cx="528.71" cy="769.21" r="3.3"/><circle cx="539.28" cy="762.07" r="3.3"/><circle cx="550.57" cy="751.59" r="3.3"/><circle cx="560.43" cy="724.92" r="3.3"/><circle cx="567.49" cy="723.97" r="3.3"/><circle cx="573.83" cy="723.97" r="3.3"/><circle cx="582.29" cy="725.39" r="3.3"/><circle cx="589.34" cy="722.54" r="3.3"/><circle cx="597.1" cy="718.25" r="3.3"/><circle cx="604.85" cy="720.15" r="3.3"/><circle cx="613.31" cy="722.06" r="3.3"/><circle cx="621.07" cy="718.73" r="3.3"/><circle cx="628.82" cy="716.34" r="3.3"/><circle cx="634.46" cy="710.95" r="3.3"/><circle cx="643.36" cy="709.74" r="3.3"/><circle cx="650.64" cy="711.1" r="3.3"/><circle cx="656.93" cy="709.29" r="3.3"/><circle cx="664.37" cy="710.94" r="3.3"/><circle cx="670.35" cy="711.05" r="3.3"/><circle cx="677.06" cy="711.39" r="3.3"/><circle cx="685.14" cy="710.6" r="3.3"/><circle cx="690.93" cy="712.87" r="3.3"/><circle cx="698.87" cy="709.61" r="3.3"/><circle cx="718.57" cy="709.69" r="3.3"/><circle cx="724.88" cy="709.29" r="3.3"/><circle cx="731.37" cy="710.77" r="3.3"/><circle cx="738.57" cy="709.5" r="3.3"/><circle cx="747.18" cy="711.23" r="3.3"/><circle cx="754.58" cy="709.44" r="3.3"/><circle cx="762.55" cy="710.31" r="3.3"/><circle cx="789.46" cy="709.51" r="3.3"/><circle cx="797.6" cy="709.61" r="3.3"/><circle cx="804.26" cy="710.15" r="3.3"/><circle cx="810.14" cy="709.35" r="3.3"/><circle cx="818.77" cy="710.64" r="3.3"/><circle cx="825.77" cy="711.87" r="3.3"/><circle cx="831.41" cy="709.92" r="3.3"/><circle cx="835.38" cy="710.15" r="3.3"/></g>
<polyline points="160.7,1175.49 164.22,1175.49 167.75,1175.49 171.28,1175.49 174.8,1175.49 178.33,1175.49 181.85,1175.49 185.38,1175.49 188.9,1175.48 192.43,1175.48 195.95,1175.48 199.48,1175.48 203,1175.48 206.53,1175.47 210.05,1175.47 213.58,1175.46 217.1,1175.46 220.63,1175.45 224.15,1175.45 227.68,1175.44 231.2,1175.43 234.73,1175.42 238.25,1175.41 241.78,1175.4 245.3,1175.38 248.83,1175.37 252.35,1175.35 255.88,1175.33 259.4,1175.3 262.93,1175.27 266.45,1175.24 269.98,1175.2 273.5,1175.16 277.03,1175.11 280.55,1175.05 284.08,1174.98 287.6,1174.91 291.12,1174.82 294.65,1174.72 298.18,1174.61 301.7,1174.48 305.23,1174.33 308.75,1174.16 312.27,1173.96 315.8,1173.74 319.32,1173.48 322.85,1173.18 326.37,1172.85 329.9,1172.46 333.42,1172.02 336.95,1171.51 340.47,1170.93 344,1170.27 347.52,1169.51 351.05,1168.65 354.57,1167.66 358.1,1166.53 361.62,1165.24 365.15,1163.77 368.67,1162.1 372.2,1160.2 375.72,1158.03 379.25,1155.58 382.77,1152.8 386.3,1149.65 389.82,1146.1 393.35,1142.09 396.87,1137.58 400.4,1132.53 403.92,1126.88 407.45,1120.58 410.97,1113.59 414.5,1105.86 418.02,1097.35 421.55,1088.03 425.07,1077.87 428.6,1066.88 432.12,1055.05 435.65,1042.41 439.17,1029.01 442.7,1014.91 446.22,1000.2 449.75,984.98 453.27,969.37 456.8,953.52 460.32,937.56 463.85,921.64 467.37,905.92 470.9,890.53 474.42,875.6 477.95,861.24 481.47,847.56 485,834.61 488.52,822.45 492.05,811.12 495.57,800.63 499.1,790.98 502.62,782.15 506.15,774.11 509.67,766.83 513.2,760.26 516.72,754.35 520.25,749.07 523.77,744.35 527.3,740.15 530.82,736.42 534.35,733.11 537.87,730.19 541.4,727.61 544.92,725.33 548.45,723.33 551.97,721.57 555.5,720.02 559.02,718.67 562.55,717.47 566.07,716.43 569.6,715.52 573.12,714.72 576.65,714.02 580.17,713.41 583.7,712.87 587.22,712.41 590.75,712 594.27,711.64 597.8,711.33 601.32,711.06 604.85,710.82 608.37,710.62 611.9,710.43 615.42,710.28 618.95,710.14 622.47,710.02 626,709.91 629.52,709.82 633.05,709.74 636.57,709.67 640.1,709.61 643.62,709.56 647.15,709.51 650.67,709.47 654.2,709.44 657.72,709.41 661.25,709.38 664.77,709.36 668.3,709.34 671.82,709.32 675.35,709.31 678.87,709.29 682.4,709.28 685.92,709.27 689.45,709.26 692.97,709.25 696.5,709.25 700.02,709.24 703.55,709.24 707.07,709.23 710.6,709.23 714.12,709.22 717.65,709.22 721.17,709.22 724.7,709.22 728.22,709.21 731.75,709.21 735.27,709.21 738.8,709.21 742.32,709.21 745.85,709.21 749.37,709.21 752.9,709.21 756.42,709.2 759.95,709.2 763.47,709.2 767,709.2 770.52,709.2 774.05,709.2 777.57,709.2 781.1,709.2 784.62,709.2 788.15,709.2 791.67,709.2 795.2,709.2 798.73,709.2 802.25,709.2 805.78,709.2 809.3,709.2 812.83,709.2 816.35,709.2 819.88,709.2 823.4,709.2 826.93,709.2 830.45,709.2 833.98,709.2 837.5,709.2" fill="none" stroke="#d4883a" stroke-width="3.7" stroke-dasharray="13.6 5.9"/>
<line x1="160.7" y1="1185.5" x2="837.5" y2="1185.5" stroke="#3b528b" stroke-width="3.7" stroke-dasharray="3.7 6.0"/>
</g>
<rect x="132.5" y="685" width="705" height="524.3" fill="none" stroke="#000000" stroke-width="2.0"/>
<path d="M273.5 1209.3V1198.8M273.5 685V695.5M414.5 1209.3V1198.8M414.5 685V695.5M555.5 1209.3V1198.8M555.5 685V695.5M696.5 1209.3V1198.8M696.5 685V695.5M132.5 1185.5H143M837.5 1185.5H827M132.5 1090.24H143M837.5 1090.24H827M132.5 994.98H143M837.5 994.98H827M132.5 899.72H143M837.5 899.72H827M132.5 804.46H143M837.5 804.46H827M132.5 709.2H143M837.5 709.2H827" stroke="#000000" stroke-width="1.95" fill="none"/>
<text x="132.5" y="1240.9" font-family="'DejaVu Sans','Liberation Sans',sans-serif" fill="#000000" font-size="25.3" text-anchor="middle">0</text>
<text x="273.5" y="1240.9" font-family="'DejaVu Sans','Liberation Sans',sans-serif" fill="#000000" font-size="25.3" text-anchor="middle">2</text>
<text x="414.5" y="1240.9" font-family="'DejaVu Sans','Liberation Sans',sans-serif" fill="#000000" font-size="25.3" text-anchor="middle">4</text>
<text x="555.5" y="1240.9" font-family="'DejaVu Sans','Liberation Sans',sans-serif" fill="#000000" font-size="25.3" text-anchor="middle">6</text>
<text x="696.5" y="1240.9" font-family="'DejaVu Sans','Liberation Sans',sans-serif" fill="#000000" font-size="25.3" text-anchor="middle">8</text>
<text x="837.5" y="1240.9" font-family="'DejaVu Sans','Liberation Sans',sans-serif" fill="#000000" font-size="25.3" text-anchor="middle">10</text>
<text x="120" y="1195" font-family="'DejaVu Sans','Liberation Sans',sans-serif" fill="#000000" font-size="25.3" text-anchor="end">0.0</text>
<text x="120" y="1099.74" font-family="'DejaVu Sans','Liberation Sans',sans-serif" fill="#000000" font-size="25.3" text-anchor="end">0.2</text>
<text x="120" y="1004.48" font-family="'DejaVu Sans','Liberation Sans',sans-serif" fill="#000000" font-size="25.3" text-anchor="end">0.4</text>
<text x="120" y="909.22" font-family="'DejaVu Sans','Liberation Sans',sans-serif" fill="#000000" font-size="25.3" text-anchor="end">0.6</text>
<text x="120" y="813.96" font-family="'DejaVu Sans','Liberation Sans',sans-serif" fill="#000000" font-size="25.3" text-anchor="end">0.8</text>
<text x="120" y="718.7" font-family="'DejaVu Sans','Liberation Sans',sans-serif" fill="#000000" font-size="25.3" text-anchor="end">1.0</text>
<text x="483.2" y="1280" font-family="'DejaVu Sans','Liberation Sans',sans-serif" fill="#000000" font-size="25.3" text-anchor="middle">Propagation field, <tspan font-style="italic">h</tspan><tspan font-size="17.71" font-style="italic" dy="4.05">ij</tspan><tspan dy="-4.05"> (mT)</tspan></text>
<text transform="translate(52.0,947.9) rotate(-90)" font-family="'DejaVu Sans','Liberation Sans',sans-serif" fill="#000000" font-size="25.6" text-anchor="middle">Passing probability, <tspan font-style="italic">p</tspan>(<tspan font-style="italic">w</tspan><tspan font-size="17.92" font-style="italic" dy="4.1">ij</tspan><tspan dy="-4.1" font-style="italic">x</tspan><tspan font-size="17.92" font-style="italic" dy="4.1">j</tspan><tspan dy="-4.1"> = 1)</tspan></text>
<path d="M499.2 1077H519.6M499.2 1062.7V1091.3M519.6 1062.7V1091.3M509.4 1067V1087M495.1 1067H523.7M495.1 1087H523.7" stroke="#21918c" stroke-width="3.7" fill="none"/>
<circle cx="509.4" cy="1077" r="4.1" fill="#21918c"/>
<line x1="488.8" y1="1112" x2="530" y2="1112" stroke="#d4883a" stroke-width="3.7" stroke-dasharray="13.6 5.9"/>
<line x1="488.8" y1="1147.5" x2="530" y2="1147.5" stroke="#3b528b" stroke-width="3.7" stroke-dasharray="3.7 6.0"/>
<text x="545.5" y="1081.7" font-family="'DejaVu Sans','Liberation Sans',sans-serif" fill="#000000" font-size="20.3" text-anchor="start">Experimental data, <tspan font-style="italic">x</tspan><tspan font-size="14.21" font-style="italic" dy="3.25">j</tspan><tspan dy="-3.25"> = 1</tspan></text>
<text x="545.5" y="1116.8" font-family="'DejaVu Sans','Liberation Sans',sans-serif" fill="#000000" font-size="20.3" text-anchor="start">Logistic sigmoid fit, <tspan font-style="italic">x</tspan><tspan font-size="14.21" font-style="italic" dy="3.25">j</tspan><tspan dy="-3.25"> = 1</tspan></text>
<text x="545.5" y="1151.9" font-family="'DejaVu Sans','Liberation Sans',sans-serif" fill="#000000" font-size="20.3" text-anchor="start">No input, <tspan font-style="italic">x</tspan><tspan font-size="14.21" font-style="italic" dy="3.25">j</tspan><tspan dy="-3.25"> = 0</tspan></text>
<text x="889.6" y="661.3" font-family="'DejaVu Sans','Liberation Sans',sans-serif" font-weight="bold" font-size="35" fill="#231f20">d</text>
<clipPath id="clipD"><rect x="999.9" y="690" width="701.2" height="523"/></clipPath>
<g clip-path="url(#clipD)">
<path d="M1140.14 690V1213M1280.38 690V1213M1420.62 690V1213M1560.86 690V1213M999.9 1188.7H1701.1M999.9 1069.95H1701.1M999.9 951.2H1701.1M999.9 832.45H1701.1M999.9 713.7H1701.1" stroke="#b0b0b0" stroke-width="2.0" fill="none"/>
</g>
<path d="M1140.14 1213V1202.5M1140.14 690V700.5M1280.38 1213V1202.5M1280.38 690V700.5M1420.62 1213V1202.5M1420.62 690V700.5M1560.86 1213V1202.5M1560.86 690V700.5M999.9 1188.7H1010.4M1701.1 1188.7H1690.6M999.9 1069.95H1010.4M1701.1 1069.95H1690.6M999.9 951.2H1010.4M1701.1 951.2H1690.6M999.9 832.45H1010.4M1701.1 832.45H1690.6M999.9 713.7H1010.4M1701.1 713.7H1690.6" stroke="#000000" stroke-width="1.95" fill="none"/>
<g clip-path="url(#clipD)">
<g fill="#3b528b" fill-opacity="0.5">
<path d="M999.9 1177.7l6.7 11l-6.7 11l-6.7 -11z"/>
<path d="M1002 1177.7l6.7 11l-6.7 11l-6.7 -11z"/>
<path d="M1004.11 1177.7l6.7 11l-6.7 11l-6.7 -11z"/>
<path d="M1006.21 1177.7l6.7 11l-6.7 11l-6.7 -11z"/>
<path d="M1008.31 1177.7l6.7 11l-6.7 11l-6.7 -11z"/>
<path d="M1010.42 1177.7l6.7 11l-6.7 11l-6.7 -11z"/>
<path d="M1012.52 1177.7l6.7 11l-6.7 11l-6.7 -11z"/>
<path d="M1014.63 1177.7l6.7 11l-6.7 11l-6.7 -11z"/>
<path d="M1016.73 1177.7l6.7 11l-6.7 11l-6.7 -11z"/>
<path d="M1018.83 1177.7l6.7 11l-6.7 11l-6.7 -11z"/>
<path d="M1020.94 1177.7l6.7 11l-6.7 11l-6.7 -11z"/>
<path d="M1023.04 1177.7l6.7 11l-6.7 11l-6.7 -11z"/>
<path d="M1025.14 1177.7l6.7 11l-6.7 11l-6.7 -11z"/>
<path d="M1027.25 1177.7l6.7 11l-6.7 11l-6.7 -11z"/>
<path d="M1029.35 1177.7l6.7 11l-6.7 11l-6.7 -11z"/>
<path d="M1031.45 1177.7l6.7 11l-6.7 11l-6.7 -11z"/>
<path d="M1033.56 1177.7l6.7 11l-6.7 11l-6.7 -11z"/>
<path d="M1035.66 1177.7l6.7 11l-6.7 11l-6.7 -11z"/>
<path d="M1037.76 1177.7l6.7 11l-6.7 11l-6.7 -11z"/>
<path d="M1039.87 1177.7l6.7 11l-6.7 11l-6.7 -11z"/>
<path d="M1041.97 1177.7l6.7 11l-6.7 11l-6.7 -11z"/>
<path d="M1044.08 1177.7l6.7 11l-6.7 11l-6.7 -11z"/>
<path d="M1046.18 1177.7l6.7 11l-6.7 11l-6.7 -11z"/>
<path d="M1048.28 1177.7l6.7 11l-6.7 11l-6.7 -11z"/>
<path d="M1050.39 1177.7l6.7 11l-6.7 11l-6.7 -11z"/>
<path d="M1052.49 1177.7l6.7 11l-6.7 11l-6.7 -11z"/>
<path d="M1054.59 1177.7l6.7 11l-6.7 11l-6.7 -11z"/>
<path d="M1056.7 1177.7l6.7 11l-6.7 11l-6.7 -11z"/>
<path d="M1058.8 1177.7l6.7 11l-6.7 11l-6.7 -11z"/>
<path d="M1060.9 1177.7l6.7 11l-6.7 11l-6.7 -11z"/>
<path d="M1063.01 1177.7l6.7 11l-6.7 11l-6.7 -11z"/>
<path d="M1065.11 1177.7l6.7 11l-6.7 11l-6.7 -11z"/>
<path d="M1067.22 1177.7l6.7 11l-6.7 11l-6.7 -11z"/>
<path d="M1069.32 1177.7l6.7 11l-6.7 11l-6.7 -11z"/>
<path d="M1071.42 1177.7l6.7 11l-6.7 11l-6.7 -11z"/>
<path d="M1073.53 1177.7l6.7 11l-6.7 11l-6.7 -11z"/>
<path d="M1075.63 1177.7l6.7 11l-6.7 11l-6.7 -11z"/>
<path d="M1077.73 1177.7l6.7 11l-6.7 11l-6.7 -11z"/>
<path d="M1079.84 1177.7l6.7 11l-6.7 11l-6.7 -11z"/>
<path d="M1081.94 1177.7l6.7 11l-6.7 11l-6.7 -11z"/>
<path d="M1084.04 1177.7l6.7 11l-6.7 11l-6.7 -11z"/>
<path d="M1086.15 1177.7l6.7 11l-6.7 11l-6.7 -11z"/>
<path d="M1092.46 1177.7l6.7 11l-6.7 11l-6.7 -11z"/>
<path d="M1094.56 1177.7l6.7 11l-6.7 11l-6.7 -11z"/>
<path d="M1096.67 1177.7l6.7 11l-6.7 11l-6.7 -11z"/>
<path d="M1098.77 1177.7l6.7 11l-6.7 11l-6.7 -11z"/>
<path d="M1100.87 1177.7l6.7 11l-6.7 11l-6.7 -11z"/>
<path d="M1102.98 1177.7l6.7 11l-6.7 11l-6.7 -11z"/>
<path d="M1105.08 1177.7l6.7 11l-6.7 11l-6.7 -11z"/>
<path d="M1107.18 1177.7l6.7 11l-6.7 11l-6.7 -11z"/>
<path d="M1109.29 1177.7l6.7 11l-6.7 11l-6.7 -11z"/>
<path d="M1111.39 1177.7l6.7 11l-6.7 11l-6.7 -11z"/>
<path d="M1113.49 1177.7l6.7 11l-6.7 11l-6.7 -11z"/>
<path d="M1115.6 1177.7l6.7 11l-6.7 11l-6.7 -11z"/>
<path d="M1117.7 1177.7l6.7 11l-6.7 11l-6.7 -11z"/>
<path d="M1119.81 1177.7l6.7 11l-6.7 11l-6.7 -11z"/>
<path d="M1121.91 1177.7l6.7 11l-6.7 11l-6.7 -11z"/>
<path d="M1124.01 1177.7l6.7 11l-6.7 11l-6.7 -11z"/>
<path d="M1126.12 1177.7l6.7 11l-6.7 11l-6.7 -11z"/>
<path d="M1128.22 1177.7l6.7 11l-6.7 11l-6.7 -11z"/>
<path d="M1130.32 1177.7l6.7 11l-6.7 11l-6.7 -11z"/>
<path d="M1132.43 1177.7l6.7 11l-6.7 11l-6.7 -11z"/>
<path d="M1134.53 1177.7l6.7 11l-6.7 11l-6.7 -11z"/>
<path d="M1136.63 1177.7l6.7 11l-6.7 11l-6.7 -11z"/>
<path d="M1138.74 1177.7l6.7 11l-6.7 11l-6.7 -11z"/>
<path d="M1140.84 1177.7l6.7 11l-6.7 11l-6.7 -11z"/>
<path d="M1142.94 1177.7l6.7 11l-6.7 11l-6.7 -11z"/>
<path d="M1145.05 1177.7l6.7 11l-6.7 11l-6.7 -11z"/>
<path d="M1147.15 1177.7l6.7 11l-6.7 11l-6.7 -11z"/>
<path d="M1149.26 1177.7l6.7 11l-6.7 11l-6.7 -11z"/>
<path d="M1151.36 1177.7l6.7 11l-6.7 11l-6.7 -11z"/>
<path d="M1153.46 1177.7l6.7 11l-6.7 11l-6.7 -11z"/>
<path d="M1155.57 1177.7l6.7 11l-6.7 11l-6.7 -11z"/>
<path d="M1157.67 1177.7l6.7 11l-6.7 11l-6.7 -11z"/>
<path d="M1159.77 1177.7l6.7 11l-6.7 11l-6.7 -11z"/>
<path d="M1161.88 1177.7l6.7 11l-6.7 11l-6.7 -11z"/>
<path d="M1163.98 1177.7l6.7 11l-6.7 11l-6.7 -11z"/>
<path d="M1166.08 1177.7l6.7 11l-6.7 11l-6.7 -11z"/>
<path d="M1174.5 1177.7l6.7 11l-6.7 11l-6.7 -11z"/>
<path d="M1176.6 1177.7l6.7 11l-6.7 11l-6.7 -11z"/>
<path d="M1178.71 1177.7l6.7 11l-6.7 11l-6.7 -11z"/>
<path d="M1180.81 1177.7l6.7 11l-6.7 11l-6.7 -11z"/>
<path d="M1182.91 1177.7l6.7 11l-6.7 11l-6.7 -11z"/>
<path d="M1185.02 1177.7l6.7 11l-6.7 11l-6.7 -11z"/>
<path d="M1187.12 1177.7l6.7 11l-6.7 11l-6.7 -11z"/>
<path d="M1189.22 1177.7l6.7 11l-6.7 11l-6.7 -11z"/>
<path d="M1191.33 1177.7l6.7 11l-6.7 11l-6.7 -11z"/>
<path d="M1193.43 1177.7l6.7 11l-6.7 11l-6.7 -11z"/>
<path d="M1195.53 1177.7l6.7 11l-6.7 11l-6.7 -11z"/>
<path d="M1197.64 1177.7l6.7 11l-6.7 11l-6.7 -11z"/>
<path d="M1199.74 1177.7l6.7 11l-6.7 11l-6.7 -11z"/>
<path d="M1201.85 1177.7l6.7 11l-6.7 11l-6.7 -11z"/>
<path d="M1203.95 1177.7l6.7 11l-6.7 11l-6.7 -11z"/>
<path d="M1206.05 1177.7l6.7 11l-6.7 11l-6.7 -11z"/>
<path d="M1208.16 1177.7l6.7 11l-6.7 11l-6.7 -11z"/>
<path d="M1210.26 1177.7l6.7 11l-6.7 11l-6.7 -11z"/>
<path d="M1212.36 1177.7l6.7 11l-6.7 11l-6.7 -11z"/>
<path d="M1214.47 1177.7l6.7 11l-6.7 11l-6.7 -11z"/>
<path d="M1216.57 1177.7l6.7 11l-6.7 11l-6.7 -11z"/>
<path d="M1218.67 1177.7l6.7 11l-6.7 11l-6.7 -11z"/>
<path d="M1220.78 1177.7l6.7 11l-6.7 11l-6.7 -11z"/>
<path d="M1222.88 1177.7l6.7 11l-6.7 11l-6.7 -11z"/>
<path d="M1224.99 1177.7l6.7 11l-6.7 11l-6.7 -11z"/>
<path d="M1233.4 1177.7l6.7 11l-6.7 11l-6.7 -11z"/>
<path d="M1235.5 1177.7l6.7 11l-6.7 11l-6.7 -11z"/>
<path d="M1237.61 1177.7l6.7 11l-6.7 11l-6.7 -11z"/>
<path d="M1239.71 1177.7l6.7 11l-6.7 11l-6.7 -11z"/>
<path d="M1241.81 1177.7l6.7 11l-6.7 11l-6.7 -11z"/>
<path d="M1243.92 1177.7l6.7 11l-6.7 11l-6.7 -11z"/>
<path d="M1246.02 1177.7l6.7 11l-6.7 11l-6.7 -11z"/>
<path d="M1248.12 1177.7l6.7 11l-6.7 11l-6.7 -11z"/>
<path d="M1250.23 1177.7l6.7 11l-6.7 11l-6.7 -11z"/>
<path d="M1252.33 1177.7l6.7 11l-6.7 11l-6.7 -11z"/>
<path d="M1254.44 1177.7l6.7 11l-6.7 11l-6.7 -11z"/>
<path d="M1256.54 1177.7l6.7 11l-6.7 11l-6.7 -11z"/>
<path d="M1258.64 1177.7l6.7 11l-6.7 11l-6.7 -11z"/>
<path d="M1260.75 1177.7l6.7 11l-6.7 11l-6.7 -11z"/>
<path d="M1262.85 1177.7l6.7 11l-6.7 11l-6.7 -11z"/>
<path d="M1264.95 1177.7l6.7 11l-6.7 11l-6.7 -11z"/>
<path d="M1267.06 1177.7l6.7 11l-6.7 11l-6.7 -11z"/>
<path d="M1269.16 1177.7l6.7 11l-6.7 11l-6.7 -11z"/>
<path d="M1271.26 1177.7l6.7 11l-6.7 11l-6.7 -11z"/>
<path d="M1273.37 1177.7l6.7 11l-6.7 11l-6.7 -11z"/>
<path d="M1275.47 1177.7l6.7 11l-6.7 11l-6.7 -11z"/>
<path d="M1277.58 1177.7l6.7 11l-6.7 11l-6.7 -11z"/>
<path d="M1279.68 1177.7l6.7 11l-6.7 11l-6.7 -11z"/>
<path d="M1281.78 1177.7l6.7 11l-6.7 11l-6.7 -11z"/>
<path d="M1283.89 1177.7l6.7 11l-6.7 11l-6.7 -11z"/>
<path d="M1285.99 1177.7l6.7 11l-6.7 11l-6.7 -11z"/>
<path d="M1288.09 1177.7l6.7 11l-6.7 11l-6.7 -11z"/>
<path d="M1290.2 1177.7l6.7 11l-6.7 11l-6.7 -11z"/>
<path d="M1292.3 1177.7l6.7 11l-6.7 11l-6.7 -11z"/>
<path d="M1294.4 1177.7l6.7 11l-6.7 11l-6.7 -11z"/>
<path d="M1296.51 1177.7l6.7 11l-6.7 11l-6.7 -11z"/>
<path d="M1323.85 1177.7l6.7 11l-6.7 11l-6.7 -11z"/>
<path d="M1018.83 1058.95l6.7 11l-6.7 11l-6.7 -11z"/>
<path d="M1125.41 1058.95l6.7 11l-6.7 11l-6.7 -11z"/>
<path d="M1127.52 1058.95l6.7 11l-6.7 11l-6.7 -11z"/>
<path d="M1151.36 1058.95l6.7 11l-6.7 11l-6.7 -11z"/>
<path d="M1163.28 1058.95l6.7 11l-6.7 11l-6.7 -11z"/>
<path d="M1173.8 1058.95l6.7 11l-6.7 11l-6.7 -11z"/>
<path d="M1213.77 1058.95l6.7 11l-6.7 11l-6.7 -11z"/>
<path d="M1233.4 1058.95l6.7 11l-6.7 11l-6.7 -11z"/>
<path d="M1238.31 1058.95l6.7 11l-6.7 11l-6.7 -11z"/>
<path d="M1243.22 1058.95l6.7 11l-6.7 11l-6.7 -11z"/>
<path d="M1248.12 1058.95l6.7 11l-6.7 11l-6.7 -11z"/>
<path d="M1253.03 1058.95l6.7 11l-6.7 11l-6.7 -11z"/>
<path d="M1257.94 1058.95l6.7 11l-6.7 11l-6.7 -11z"/>
<path d="M1260.05 1058.95l6.7 11l-6.7 11l-6.7 -11z"/>
<path d="M1264.95 1058.95l6.7 11l-6.7 11l-6.7 -11z"/>
<path d="M1270.56 1058.95l6.7 11l-6.7 11l-6.7 -11z"/>
<path d="M1276.17 1058.95l6.7 11l-6.7 11l-6.7 -11z"/>
<path d="M1281.78 1058.95l6.7 11l-6.7 11l-6.7 -11z"/>
<path d="M1285.99 1058.95l6.7 11l-6.7 11l-6.7 -11z"/>
<path d="M1290.2 1058.95l6.7 11l-6.7 11l-6.7 -11z"/>
<path d="M1294.4 1058.95l6.7 11l-6.7 11l-6.7 -11z"/>
<path d="M1297.21 1058.95l6.7 11l-6.7 11l-6.7 -11z"/>
<path d="M1302.82 1058.95l6.7 11l-6.7 11l-6.7 -11z"/>
<path d="M1308.43 1058.95l6.7 11l-6.7 11l-6.7 -11z"/>
<path d="M1314.04 1058.95l6.7 11l-6.7 11l-6.7 -11z"/>
<path d="M1316.84 1058.95l6.7 11l-6.7 11l-6.7 -11z"/>
<path d="M1330.17 1058.95l6.7 11l-6.7 11l-6.7 -11z"/>
<path d="M1334.37 1058.95l6.7 11l-6.7 11l-6.7 -11z"/>
<path d="M1338.58 1058.95l6.7 11l-6.7 11l-6.7 -11z"/>
<path d="M1140.84 940.2l6.7 11l-6.7 11l-6.7 -11z"/>
<path d="M1178.71 940.2l6.7 11l-6.7 11l-6.7 -11z"/>
<path d="M1259.34 940.2l6.7 11l-6.7 11l-6.7 -11z"/>
<path d="M1302.12 940.2l6.7 11l-6.7 11l-6.7 -11z"/>
<path d="M1309.83 940.2l6.7 11l-6.7 11l-6.7 -11z"/>
<path d="M1315.44 940.2l6.7 11l-6.7 11l-6.7 -11z"/>
<path d="M1321.05 940.2l6.7 11l-6.7 11l-6.7 -11z"/>
<path d="M1325.26 940.2l6.7 11l-6.7 11l-6.7 -11z"/>
<path d="M1330.17 940.2l6.7 11l-6.7 11l-6.7 -11z"/>
<path d="M1334.37 940.2l6.7 11l-6.7 11l-6.7 -11z"/>
<path d="M1340.68 940.2l6.7 11l-6.7 11l-6.7 -11z"/>
<path d="M1344.19 940.2l6.7 11l-6.7 11l-6.7 -11z"/>
<path d="M1346.99 940.2l6.7 11l-6.7 11l-6.7 -11z"/>
<path d="M1349.8 940.2l6.7 11l-6.7 11l-6.7 -11z"/>
<path d="M1351.9 940.2l6.7 11l-6.7 11l-6.7 -11z"/>
<path d="M1362.42 940.2l6.7 11l-6.7 11l-6.7 -11z"/>
<path d="M1365.23 940.2l6.7 11l-6.7 11l-6.7 -11z"/>
<path d="M1376.44 940.2l6.7 11l-6.7 11l-6.7 -11z"/>
<path d="M1378.55 940.2l6.7 11l-6.7 11l-6.7 -11z"/>
<path d="M1299.31 821.45l6.7 11l-6.7 11l-6.7 -11z"/>
<path d="M1313.34 821.45l6.7 11l-6.7 11l-6.7 -11z"/>
<path d="M1327.36 821.45l6.7 11l-6.7 11l-6.7 -11z"/>
<path d="M1339.98 821.45l6.7 11l-6.7 11l-6.7 -11z"/>
<path d="M1342.79 821.45l6.7 11l-6.7 11l-6.7 -11z"/>
<path d="M1345.59 821.45l6.7 11l-6.7 11l-6.7 -11z"/>
<path d="M1359.62 821.45l6.7 11l-6.7 11l-6.7 -11z"/>
<path d="M1375.04 821.45l6.7 11l-6.7 11l-6.7 -11z"/>
<path d="M1382.76 821.45l6.7 11l-6.7 11l-6.7 -11z"/>
<path d="M1394.68 821.45l6.7 11l-6.7 11l-6.7 -11z"/>
<path d="M1424.13 821.45l6.7 11l-6.7 11l-6.7 -11z"/>
<path d="M1434.64 821.45l6.7 11l-6.7 11l-6.7 -11z"/>
<path d="M1445.86 821.45l6.7 11l-6.7 11l-6.7 -11z"/>
<path d="M1299.31 821.45l6.7 11l-6.7 11l-6.7 -11z"/>
<path d="M1311.93 821.45l6.7 11l-6.7 11l-6.7 -11z"/>
<path d="M1315.44 821.45l6.7 11l-6.7 11l-6.7 -11z"/>
<path d="M1326.66 821.45l6.7 11l-6.7 11l-6.7 -11z"/>
<path d="M1329.46 821.45l6.7 11l-6.7 11l-6.7 -11z"/>
<path d="M1341.38 821.45l6.7 11l-6.7 11l-6.7 -11z"/>
<path d="M1343.49 821.45l6.7 11l-6.7 11l-6.7 -11z"/>
<path d="M1344.19 821.45l6.7 11l-6.7 11l-6.7 -11z"/>
<path d="M1360.32 821.45l6.7 11l-6.7 11l-6.7 -11z"/>
<path d="M1373.64 821.45l6.7 11l-6.7 11l-6.7 -11z"/>
<path d="M1376.44 821.45l6.7 11l-6.7 11l-6.7 -11z"/>
<path d="M1393.97 821.45l6.7 11l-6.7 11l-6.7 -11z"/>
<path d="M1424.83 821.45l6.7 11l-6.7 11l-6.7 -11z"/>
<path d="M1444.46 821.45l6.7 11l-6.7 11l-6.7 -11z"/>
<path d="M1314.04 940.2l6.7 11l-6.7 11l-6.7 -11z"/>
<path d="M1322.45 940.2l6.7 11l-6.7 11l-6.7 -11z"/>
<path d="M1340.68 940.2l6.7 11l-6.7 11l-6.7 -11z"/>
<path d="M1343.49 940.2l6.7 11l-6.7 11l-6.7 -11z"/>
<path d="M1346.29 940.2l6.7 11l-6.7 11l-6.7 -11z"/>
<path d="M1349.1 940.2l6.7 11l-6.7 11l-6.7 -11z"/>
<path d="M1361.72 940.2l6.7 11l-6.7 11l-6.7 -11z"/>
<path d="M1364.52 940.2l6.7 11l-6.7 11l-6.7 -11z"/>
<path d="M1377.15 940.2l6.7 11l-6.7 11l-6.7 -11z"/>
<path d="M1239.71 1058.95l6.7 11l-6.7 11l-6.7 -11z"/>
<path d="M1245.32 1058.95l6.7 11l-6.7 11l-6.7 -11z"/>
<path d="M1250.93 1058.95l6.7 11l-6.7 11l-6.7 -11z"/>
<path d="M1273.37 1058.95l6.7 11l-6.7 11l-6.7 -11z"/>
<path d="M1283.89 1058.95l6.7 11l-6.7 11l-6.7 -11z"/>
<path d="M1293 1058.95l6.7 11l-6.7 11l-6.7 -11z"/>
<path d="M1295.81 1058.95l6.7 11l-6.7 11l-6.7 -11z"/>
<path d="M1300.01 1058.95l6.7 11l-6.7 11l-6.7 -11z"/>
<path d="M1304.22 1058.95l6.7 11l-6.7 11l-6.7 -11z"/>
<path d="M1309.83 1058.95l6.7 11l-6.7 11l-6.7 -11z"/>
<path d="M1315.44 1058.95l6.7 11l-6.7 11l-6.7 -11z"/>
<path d="M1335.77 1058.95l6.7 11l-6.7 11l-6.7 -11z"/>
<path d="M1332.27 702.7l6.7 11l-6.7 11l-6.7 -11z"/>
<path d="M1334.37 702.7l6.7 11l-6.7 11l-6.7 -11z"/>
<path d="M1336.48 702.7l6.7 11l-6.7 11l-6.7 -11z"/>
<path d="M1338.58 702.7l6.7 11l-6.7 11l-6.7 -11z"/>
<path d="M1340.68 702.7l6.7 11l-6.7 11l-6.7 -11z"/>
<path d="M1342.79 702.7l6.7 11l-6.7 11l-6.7 -11z"/>
<path d="M1344.89 702.7l6.7 11l-6.7 11l-6.7 -11z"/>
<path d="M1353.3 702.7l6.7 11l-6.7 11l-6.7 -11z"/>
<path d="M1355.41 702.7l6.7 11l-6.7 11l-6.7 -11z"/>
<path d="M1357.51 702.7l6.7 11l-6.7 11l-6.7 -11z"/>
<path d="M1359.62 702.7l6.7 11l-6.7 11l-6.7 -11z"/>
<path d="M1361.72 702.7l6.7 11l-6.7 11l-6.7 -11z"/>
<path d="M1363.82 702.7l6.7 11l-6.7 11l-6.7 -11z"/>
<path d="M1365.93 702.7l6.7 11l-6.7 11l-6.7 -11z"/>
<path d="M1368.03 702.7l6.7 11l-6.7 11l-6.7 -11z"/>
<path d="M1372.24 702.7l6.7 11l-6.7 11l-6.7 -11z"/>
<path d="M1374.34 702.7l6.7 11l-6.7 11l-6.7 -11z"/>
<path d="M1376.44 702.7l6.7 11l-6.7 11l-6.7 -11z"/>
<path d="M1378.55 702.7l6.7 11l-6.7 11l-6.7 -11z"/>
<path d="M1380.65 702.7l6.7 11l-6.7 11l-6.7 -11z"/>
<path d="M1382.76 702.7l6.7 11l-6.7 11l-6.7 -11z"/>
<path d="M1384.86 702.7l6.7 11l-6.7 11l-6.7 -11z"/>
<path d="M1386.96 702.7l6.7 11l-6.7 11l-6.7 -11z"/>
<path d="M1389.07 702.7l6.7 11l-6.7 11l-6.7 -11z"/>
<path d="M1391.17 702.7l6.7 11l-6.7 11l-6.7 -11z"/>
<path d="M1393.27 702.7l6.7 11l-6.7 11l-6.7 -11z"/>
<path d="M1395.38 702.7l6.7 11l-6.7 11l-6.7 -11z"/>
<path d="M1397.48 702.7l6.7 11l-6.7 11l-6.7 -11z"/>
<path d="M1399.58 702.7l6.7 11l-6.7 11l-6.7 -11z"/>
<path d="M1401.69 702.7l6.7 11l-6.7 11l-6.7 -11z"/>
<path d="M1403.79 702.7l6.7 11l-6.7 11l-6.7 -11z"/>
<path d="M1405.89 702.7l6.7 11l-6.7 11l-6.7 -11z"/>
<path d="M1414.31 702.7l6.7 11l-6.7 11l-6.7 -11z"/>
<path d="M1416.41 702.7l6.7 11l-6.7 11l-6.7 -11z"/>
<path d="M1418.52 702.7l6.7 11l-6.7 11l-6.7 -11z"/>
<path d="M1420.62 702.7l6.7 11l-6.7 11l-6.7 -11z"/>
<path d="M1422.72 702.7l6.7 11l-6.7 11l-6.7 -11z"/>
<path d="M1424.83 702.7l6.7 11l-6.7 11l-6.7 -11z"/>
<path d="M1426.93 702.7l6.7 11l-6.7 11l-6.7 -11z"/>
<path d="M1429.03 702.7l6.7 11l-6.7 11l-6.7 -11z"/>
<path d="M1431.14 702.7l6.7 11l-6.7 11l-6.7 -11z"/>
<path d="M1433.24 702.7l6.7 11l-6.7 11l-6.7 -11z"/>
<path d="M1435.35 702.7l6.7 11l-6.7 11l-6.7 -11z"/>
<path d="M1437.45 702.7l6.7 11l-6.7 11l-6.7 -11z"/>
<path d="M1439.55 702.7l6.7 11l-6.7 11l-6.7 -11z"/>
<path d="M1441.66 702.7l6.7 11l-6.7 11l-6.7 -11z"/>
<path d="M1452.17 702.7l6.7 11l-6.7 11l-6.7 -11z"/>
<path d="M1454.28 702.7l6.7 11l-6.7 11l-6.7 -11z"/>
<path d="M1456.38 702.7l6.7 11l-6.7 11l-6.7 -11z"/>
<path d="M1458.48 702.7l6.7 11l-6.7 11l-6.7 -11z"/>
<path d="M1460.59 702.7l6.7 11l-6.7 11l-6.7 -11z"/>
<path d="M1462.69 702.7l6.7 11l-6.7 11l-6.7 -11z"/>
<path d="M1464.8 702.7l6.7 11l-6.7 11l-6.7 -11z"/>
<path d="M1466.9 702.7l6.7 11l-6.7 11l-6.7 -11z"/>
<path d="M1469 702.7l6.7 11l-6.7 11l-6.7 -11z"/>
<path d="M1471.11 702.7l6.7 11l-6.7 11l-6.7 -11z"/>
<path d="M1473.21 702.7l6.7 11l-6.7 11l-6.7 -11z"/>
<path d="M1475.31 702.7l6.7 11l-6.7 11l-6.7 -11z"/>
<path d="M1477.42 702.7l6.7 11l-6.7 11l-6.7 -11z"/>
<path d="M1479.52 702.7l6.7 11l-6.7 11l-6.7 -11z"/>
<path d="M1481.62 702.7l6.7 11l-6.7 11l-6.7 -11z"/>
<path d="M1483.73 702.7l6.7 11l-6.7 11l-6.7 -11z"/>
<path d="M1485.83 702.7l6.7 11l-6.7 11l-6.7 -11z"/>
<path d="M1487.94 702.7l6.7 11l-6.7 11l-6.7 -11z"/>
<path d="M1490.04 702.7l6.7 11l-6.7 11l-6.7 -11z"/>
<path d="M1492.14 702.7l6.7 11l-6.7 11l-6.7 -11z"/>
<path d="M1494.25 702.7l6.7 11l-6.7 11l-6.7 -11z"/>
<path d="M1496.35 702.7l6.7 11l-6.7 11l-6.7 -11z"/>
<path d="M1498.45 702.7l6.7 11l-6.7 11l-6.7 -11z"/>
<path d="M1500.56 702.7l6.7 11l-6.7 11l-6.7 -11z"/>
<path d="M1502.66 702.7l6.7 11l-6.7 11l-6.7 -11z"/>
<path d="M1504.76 702.7l6.7 11l-6.7 11l-6.7 -11z"/>
<path d="M1506.87 702.7l6.7 11l-6.7 11l-6.7 -11z"/>
<path d="M1508.97 702.7l6.7 11l-6.7 11l-6.7 -11z"/>
<path d="M1511.07 702.7l6.7 11l-6.7 11l-6.7 -11z"/>
<path d="M1513.18 702.7l6.7 11l-6.7 11l-6.7 -11z"/>
<path d="M1515.28 702.7l6.7 11l-6.7 11l-6.7 -11z"/>
<path d="M1517.39 702.7l6.7 11l-6.7 11l-6.7 -11z"/>
<path d="M1519.49 702.7l6.7 11l-6.7 11l-6.7 -11z"/>
<path d="M1521.59 702.7l6.7 11l-6.7 11l-6.7 -11z"/>
<path d="M1523.7 702.7l6.7 11l-6.7 11l-6.7 -11z"/>
<path d="M1525.8 702.7l6.7 11l-6.7 11l-6.7 -11z"/>
<path d="M1527.9 702.7l6.7 11l-6.7 11l-6.7 -11z"/>
<path d="M1530.01 702.7l6.7 11l-6.7 11l-6.7 -11z"/>
<path d="M1532.11 702.7l6.7 11l-6.7 11l-6.7 -11z"/>
<path d="M1534.21 702.7l6.7 11l-6.7 11l-6.7 -11z"/>
<path d="M1536.32 702.7l6.7 11l-6.7 11l-6.7 -11z"/>
<path d="M1538.42 702.7l6.7 11l-6.7 11l-6.7 -11z"/>
<path d="M1540.53 702.7l6.7 11l-6.7 11l-6.7 -11z"/>
<path d="M1542.63 702.7l6.7 11l-6.7 11l-6.7 -11z"/>
<path d="M1544.73 702.7l6.7 11l-6.7 11l-6.7 -11z"/>
<path d="M1546.84 702.7l6.7 11l-6.7 11l-6.7 -11z"/>
<path d="M1548.94 702.7l6.7 11l-6.7 11l-6.7 -11z"/>
<path d="M1551.04 702.7l6.7 11l-6.7 11l-6.7 -11z"/>
<path d="M1553.15 702.7l6.7 11l-6.7 11l-6.7 -11z"/>
<path d="M1555.25 702.7l6.7 11l-6.7 11l-6.7 -11z"/>
<path d="M1557.35 702.7l6.7 11l-6.7 11l-6.7 -11z"/>
<path d="M1559.46 702.7l6.7 11l-6.7 11l-6.7 -11z"/>
<path d="M1561.56 702.7l6.7 11l-6.7 11l-6.7 -11z"/>
<path d="M1563.66 702.7l6.7 11l-6.7 11l-6.7 -11z"/>
<path d="M1565.77 702.7l6.7 11l-6.7 11l-6.7 -11z"/>
<path d="M1567.87 702.7l6.7 11l-6.7 11l-6.7 -11z"/>
<path d="M1569.98 702.7l6.7 11l-6.7 11l-6.7 -11z"/>
<path d="M1572.08 702.7l6.7 11l-6.7 11l-6.7 -11z"/>
<path d="M1574.18 702.7l6.7 11l-6.7 11l-6.7 -11z"/>
<path d="M1576.29 702.7l6.7 11l-6.7 11l-6.7 -11z"/>
<path d="M1578.39 702.7l6.7 11l-6.7 11l-6.7 -11z"/>
<path d="M1580.49 702.7l6.7 11l-6.7 11l-6.7 -11z"/>
<path d="M1582.6 702.7l6.7 11l-6.7 11l-6.7 -11z"/>
<path d="M1584.7 702.7l6.7 11l-6.7 11l-6.7 -11z"/>
<path d="M1586.8 702.7l6.7 11l-6.7 11l-6.7 -11z"/>
<path d="M1588.91 702.7l6.7 11l-6.7 11l-6.7 -11z"/>
<path d="M1591.01 702.7l6.7 11l-6.7 11l-6.7 -11z"/>
<path d="M1593.12 702.7l6.7 11l-6.7 11l-6.7 -11z"/>
<path d="M1595.22 702.7l6.7 11l-6.7 11l-6.7 -11z"/>
<path d="M1597.32 702.7l6.7 11l-6.7 11l-6.7 -11z"/>
<path d="M1599.43 702.7l6.7 11l-6.7 11l-6.7 -11z"/>
<path d="M1601.53 702.7l6.7 11l-6.7 11l-6.7 -11z"/>
<path d="M1603.63 702.7l6.7 11l-6.7 11l-6.7 -11z"/>
<path d="M1605.74 702.7l6.7 11l-6.7 11l-6.7 -11z"/>
<path d="M1607.84 702.7l6.7 11l-6.7 11l-6.7 -11z"/>
<path d="M1609.94 702.7l6.7 11l-6.7 11l-6.7 -11z"/>
<path d="M1612.05 702.7l6.7 11l-6.7 11l-6.7 -11z"/>
<path d="M1614.15 702.7l6.7 11l-6.7 11l-6.7 -11z"/>
<path d="M1616.25 702.7l6.7 11l-6.7 11l-6.7 -11z"/>
<path d="M1618.36 702.7l6.7 11l-6.7 11l-6.7 -11z"/>
<path d="M1620.46 702.7l6.7 11l-6.7 11l-6.7 -11z"/>
<path d="M1622.57 702.7l6.7 11l-6.7 11l-6.7 -11z"/>
<path d="M1624.67 702.7l6.7 11l-6.7 11l-6.7 -11z"/>
<path d="M1626.77 702.7l6.7 11l-6.7 11l-6.7 -11z"/>
<path d="M1628.88 702.7l6.7 11l-6.7 11l-6.7 -11z"/>
<path d="M1630.98 702.7l6.7 11l-6.7 11l-6.7 -11z"/>
<path d="M1633.08 702.7l6.7 11l-6.7 11l-6.7 -11z"/>
<path d="M1635.19 702.7l6.7 11l-6.7 11l-6.7 -11z"/>
<path d="M1637.29 702.7l6.7 11l-6.7 11l-6.7 -11z"/>
<path d="M1639.39 702.7l6.7 11l-6.7 11l-6.7 -11z"/>
<path d="M1641.5 702.7l6.7 11l-6.7 11l-6.7 -11z"/>
<path d="M1643.6 702.7l6.7 11l-6.7 11l-6.7 -11z"/>
<path d="M1645.71 702.7l6.7 11l-6.7 11l-6.7 -11z"/>
<path d="M1647.81 702.7l6.7 11l-6.7 11l-6.7 -11z"/>
<path d="M1649.91 702.7l6.7 11l-6.7 11l-6.7 -11z"/>
<path d="M1652.02 702.7l6.7 11l-6.7 11l-6.7 -11z"/>
<path d="M1654.12 702.7l6.7 11l-6.7 11l-6.7 -11z"/>
<path d="M1656.22 702.7l6.7 11l-6.7 11l-6.7 -11z"/>
<path d="M1658.33 702.7l6.7 11l-6.7 11l-6.7 -11z"/>
<path d="M1660.43 702.7l6.7 11l-6.7 11l-6.7 -11z"/>
<path d="M1662.53 702.7l6.7 11l-6.7 11l-6.7 -11z"/>
<path d="M1664.64 702.7l6.7 11l-6.7 11l-6.7 -11z"/>
<path d="M1666.74 702.7l6.7 11l-6.7 11l-6.7 -11z"/>
<path d="M1668.84 702.7l6.7 11l-6.7 11l-6.7 -11z"/>
<path d="M1670.95 702.7l6.7 11l-6.7 11l-6.7 -11z"/>
<path d="M1673.05 702.7l6.7 11l-6.7 11l-6.7 -11z"/>
<path d="M1675.16 702.7l6.7 11l-6.7 11l-6.7 -11z"/>
<path d="M1677.26 702.7l6.7 11l-6.7 11l-6.7 -11z"/>
<path d="M1679.36 702.7l6.7 11l-6.7 11l-6.7 -11z"/>
<path d="M1681.47 702.7l6.7 11l-6.7 11l-6.7 -11z"/>
<path d="M1683.57 702.7l6.7 11l-6.7 11l-6.7 -11z"/>
<path d="M1685.67 702.7l6.7 11l-6.7 11l-6.7 -11z"/>
<path d="M1687.78 702.7l6.7 11l-6.7 11l-6.7 -11z"/>
<path d="M1689.88 702.7l6.7 11l-6.7 11l-6.7 -11z"/>
<path d="M1691.98 702.7l6.7 11l-6.7 11l-6.7 -11z"/>
<path d="M1694.09 702.7l6.7 11l-6.7 11l-6.7 -11z"/>
<path d="M1696.19 702.7l6.7 11l-6.7 11l-6.7 -11z"/>
<path d="M1698.3 702.7l6.7 11l-6.7 11l-6.7 -11z"/>
<path d="M1700.4 702.7l6.7 11l-6.7 11l-6.7 -11z"/>
</g>
<g fill="#21918c" fill-opacity="0.5">
<circle cx="999.9" cy="1176.37" r="7.3"/>
<circle cx="1002.7" cy="1175.06" r="7.3"/>
<circle cx="1005.51" cy="1175.48" r="7.3"/>
<circle cx="1008.31" cy="1180.88" r="7.3"/>
<circle cx="1011.12" cy="1173.93" r="7.3"/>
<circle cx="1013.92" cy="1165.49" r="7.3"/>
<circle cx="1016.73" cy="1179.23" r="7.3"/>
<circle cx="1019.53" cy="1170.14" r="7.3"/>
<circle cx="1022.34" cy="1178.98" r="7.3"/>
<circle cx="1025.14" cy="1163.71" r="7.3"/>
<circle cx="1027.95" cy="1180.05" r="7.3"/>
<circle cx="1030.75" cy="1167.94" r="7.3"/>
<circle cx="1033.56" cy="1166.36" r="7.3"/>
<circle cx="1036.36" cy="1174.47" r="7.3"/>
<circle cx="1039.17" cy="1173.79" r="7.3"/>
<circle cx="1041.97" cy="1163.15" r="7.3"/>
<circle cx="1044.78" cy="1175.85" r="7.3"/>
<circle cx="1047.58" cy="1174.31" r="7.3"/>
<circle cx="1050.39" cy="1172.36" r="7.3"/>
<circle cx="1053.19" cy="1180.6" r="7.3"/>
<circle cx="1056" cy="1165.97" r="7.3"/>
<circle cx="1058.8" cy="1178.53" r="7.3"/>
<circle cx="1061.61" cy="1174.88" r="7.3"/>
<circle cx="1064.41" cy="1178.7" r="7.3"/>
<circle cx="1067.22" cy="1162.66" r="7.3"/>
<circle cx="1070.02" cy="1180.93" r="7.3"/>
<circle cx="1072.82" cy="1163.19" r="7.3"/>
<circle cx="1075.63" cy="1178.32" r="7.3"/>
<circle cx="1078.43" cy="1174.73" r="7.3"/>
<circle cx="1081.24" cy="1162.63" r="7.3"/>
<circle cx="1084.04" cy="1174.03" r="7.3"/>
<circle cx="1086.85" cy="1178.48" r="7.3"/>
<circle cx="1089.65" cy="1177.11" r="7.3"/>
<circle cx="1092.46" cy="1180.28" r="7.3"/>
<circle cx="1095.26" cy="1175.04" r="7.3"/>
<circle cx="1098.07" cy="1180.82" r="7.3"/>
<circle cx="1100.87" cy="1180.41" r="7.3"/>
<circle cx="1103.68" cy="1176.46" r="7.3"/>
<circle cx="1106.48" cy="1178.52" r="7.3"/>
<circle cx="1109.29" cy="1176.96" r="7.3"/>
<circle cx="1112.09" cy="1173.27" r="7.3"/>
<circle cx="1114.9" cy="1179.97" r="7.3"/>
<circle cx="1117.7" cy="1168.36" r="7.3"/>
<circle cx="1120.51" cy="1173.6" r="7.3"/>
<circle cx="1123.31" cy="1178.02" r="7.3"/>
<circle cx="1126.12" cy="1176.59" r="7.3"/>
<circle cx="1128.92" cy="1177.64" r="7.3"/>
<circle cx="1131.73" cy="1180.68" r="7.3"/>
<circle cx="1134.53" cy="1180.85" r="7.3"/>
<circle cx="1137.34" cy="1163.72" r="7.3"/>
<circle cx="1140.14" cy="1173.88" r="7.3"/>
<circle cx="1142.94" cy="1166.65" r="7.3"/>
<circle cx="1145.75" cy="1179.97" r="7.3"/>
<circle cx="1148.55" cy="1178.86" r="7.3"/>
<circle cx="1151.36" cy="1173.51" r="7.3"/>
<circle cx="1154.16" cy="1173.68" r="7.3"/>
<circle cx="1156.97" cy="1177.39" r="7.3"/>
<circle cx="1159.77" cy="1177.46" r="7.3"/>
<circle cx="1162.58" cy="1170.06" r="7.3"/>
<circle cx="1165.38" cy="1173.59" r="7.3"/>
<circle cx="1168.19" cy="1176.34" r="7.3"/>
<circle cx="1170.99" cy="1171.45" r="7.3"/>
<circle cx="1173.8" cy="1175.16" r="7.3"/>
<circle cx="1176.6" cy="1178.35" r="7.3"/>
<circle cx="1179.41" cy="1175.21" r="7.3"/>
<circle cx="1182.21" cy="1176.05" r="7.3"/>
<circle cx="1185.02" cy="1178.34" r="7.3"/>
<circle cx="1187.82" cy="1178.97" r="7.3"/>
<circle cx="1190.63" cy="1175.25" r="7.3"/>
<circle cx="1193.43" cy="1178.87" r="7.3"/>
<circle cx="1196.24" cy="1176.16" r="7.3"/>
<circle cx="1199.04" cy="1181.01" r="7.3"/>
<circle cx="1201.85" cy="1179.19" r="7.3"/>
<circle cx="1002" cy="1158.3" r="7.3"/>
<circle cx="1206.75" cy="1151.17" r="7.3"/>
<circle cx="1223.58" cy="1154.98" r="7.3"/>
<circle cx="1199.74" cy="1165.42" r="7.3"/>
<circle cx="1224.99" cy="1161.62" r="7.3"/>
<circle cx="1238.31" cy="1158.78" r="7.3"/>
<circle cx="1238.31" cy="1166.38" r="7.3"/>
<circle cx="1246.72" cy="1143.58" r="7.3"/>
<circle cx="1251.63" cy="1158.78" r="7.3"/>
<circle cx="1253.73" cy="1157.35" r="7.3"/>
<circle cx="1255.14" cy="1143.58" r="7.3"/>
<circle cx="1262.15" cy="1135.03" r="7.3"/>
<circle cx="1255.14" cy="1139.3" r="7.3"/>
<circle cx="1268.46" cy="1147.85" r="7.3"/>
<circle cx="1271.97" cy="1138.35" r="7.3"/>
<circle cx="1263.55" cy="1120.78" r="7.3"/>
<circle cx="1278.28" cy="1128.38" r="7.3"/>
<circle cx="1271.97" cy="1114.6" r="7.3"/>
<circle cx="1266.36" cy="1102.73" r="7.3"/>
<circle cx="1271.97" cy="1101.78" r="7.3"/>
<circle cx="1274.07" cy="1096.08" r="7.3"/>
<circle cx="1279.68" cy="1090.85" r="7.3"/>
<circle cx="1293" cy="1088.48" r="7.3"/>
<circle cx="1290.9" cy="1106.05" r="7.3"/>
<circle cx="1289.5" cy="1114.6" r="7.3"/>
<circle cx="1210.26" cy="1164.95" r="7.3"/>
<circle cx="1213.77" cy="1169.7" r="7.3"/>
<circle cx="1217.27" cy="1167.33" r="7.3"/>
<circle cx="1229.19" cy="1164.95" r="7.3"/>
<circle cx="1231.3" cy="1167.8" r="7.3"/>
<circle cx="1242.52" cy="1162.58" r="7.3"/>
<circle cx="1245.32" cy="1153.08" r="7.3"/>
<circle cx="1248.83" cy="1149.75" r="7.3"/>
<circle cx="1257.94" cy="1145.95" r="7.3"/>
<circle cx="1208.86" cy="1167.33" r="7.3"/>
<circle cx="1220.08" cy="1160.2" r="7.3"/>
<circle cx="1234.8" cy="1164" r="7.3"/>
<circle cx="1291.6" cy="1043.83" r="7.3"/>
<circle cx="1301.42" cy="1046.2" r="7.3"/>
<circle cx="1305.62" cy="1052.38" r="7.3"/>
<circle cx="1295.11" cy="1054.75" r="7.3"/>
<circle cx="1297.21" cy="1060.45" r="7.3"/>
<circle cx="1293" cy="1050.95" r="7.3"/>
<circle cx="1295.81" cy="1046.2" r="7.3"/>
<circle cx="1299.31" cy="1041.45" r="7.3"/>
<circle cx="1293" cy="1088.95" r="7.3"/>
<circle cx="1278.98" cy="1093.7" r="7.3"/>
<circle cx="1271.26" cy="1098.45" r="7.3"/>
<circle cx="1299.31" cy="1027.67" r="7.3"/>
<circle cx="1308.43" cy="1029.1" r="7.3"/>
<circle cx="1306.32" cy="1010.58" r="7.3"/>
<circle cx="1311.93" cy="1010.58" r="7.3"/>
<circle cx="1314.74" cy="1017.23" r="7.3"/>
<circle cx="1309.83" cy="995.85" r="7.3"/>
<circle cx="1311.93" cy="981.12" r="7.3"/>
<circle cx="1318.95" cy="986.83" r="7.3"/>
<circle cx="1321.05" cy="979.7" r="7.3"/>
<circle cx="1319.65" cy="973.05" r="7.3"/>
<circle cx="1329.46" cy="977.33" r="7.3"/>
<circle cx="1314.74" cy="955.95" r="7.3"/>
<circle cx="1318.95" cy="939.33" r="7.3"/>
<circle cx="1322.45" cy="936.95" r="7.3"/>
<circle cx="1327.36" cy="941.7" r="7.3"/>
<circle cx="1318.24" cy="939.8" r="7.3"/>
<circle cx="1323.85" cy="941.7" r="7.3"/>
<circle cx="1329.46" cy="936.95" r="7.3"/>
<circle cx="1331.57" cy="907.03" r="7.3"/>
<circle cx="1333.67" cy="906.55" r="7.3"/>
<circle cx="1339.28" cy="890.4" r="7.3"/>
<circle cx="1342.79" cy="888.5" r="7.3"/>
<circle cx="1350.5" cy="899.43" r="7.3"/>
<circle cx="1342.09" cy="876.15" r="7.3"/>
<circle cx="1345.59" cy="875.2" r="7.3"/>
<circle cx="1348.4" cy="877.58" r="7.3"/>
<circle cx="1342.09" cy="861.9" r="7.3"/>
<circle cx="1342.79" cy="863.33" r="7.3"/>
<circle cx="1350.5" cy="846.7" r="7.3"/>
<circle cx="1354.01" cy="841.95" r="7.3"/>
<circle cx="1349.1" cy="813.45" r="7.3"/>
<circle cx="1350.5" cy="813.45" r="7.3"/>
<circle cx="1355.41" cy="816.78" r="7.3"/>
<circle cx="1351.2" cy="822.95" r="7.3"/>
<circle cx="1357.51" cy="783.53" r="7.3"/>
<circle cx="1363.82" cy="796.83" r="7.3"/>
<circle cx="1364.52" cy="799.2" r="7.3"/>
<circle cx="1379.95" cy="788.28" r="7.3"/>
<circle cx="1370.83" cy="778.3" r="7.3"/>
<circle cx="1371.54" cy="777.35" r="7.3"/>
<circle cx="1368.03" cy="768.8" r="7.3"/>
<circle cx="1380.65" cy="766.9" r="7.3"/>
<circle cx="1376.44" cy="762.62" r="7.3"/>
<circle cx="1377.15" cy="761.2" r="7.3"/>
<circle cx="1374.34" cy="749.8" r="7.3"/>
<circle cx="1383.46" cy="734.6" r="7.3"/>
<circle cx="1401.69" cy="762.62" r="7.3"/>
<circle cx="1399.58" cy="756.45" r="7.3"/>
<circle cx="1387.66" cy="739.83" r="7.3"/>
<circle cx="1392.57" cy="743.62" r="7.3"/>
<circle cx="1398.18" cy="746.95" r="7.3"/>
<circle cx="1391.17" cy="749.8" r="7.3"/>
<circle cx="1394.68" cy="752.17" r="7.3"/>
<circle cx="1403.79" cy="736.5" r="7.3"/>
<circle cx="1408.7" cy="734.6" r="7.3"/>
<circle cx="1413.61" cy="739.83" r="7.3"/>
<circle cx="1411.5" cy="743.62" r="7.3"/>
<circle cx="1392.57" cy="731.28" r="7.3"/>
<circle cx="1398.18" cy="729.38" r="7.3"/>
<circle cx="1403.79" cy="730.33" r="7.3"/>
<circle cx="1389.07" cy="746.95" r="7.3"/>
<circle cx="1396.08" cy="739.83" r="7.3"/>
<circle cx="1400.99" cy="742.2" r="7.3"/>
<circle cx="1406.6" cy="739.83" r="7.3"/>
<circle cx="1385.56" cy="732.7" r="7.3"/>
<circle cx="1390.47" cy="736.5" r="7.3"/>
<circle cx="1395.38" cy="735.08" r="7.3"/>
<circle cx="1424.13" cy="731.28" r="7.3"/>
<circle cx="1433.94" cy="733.18" r="7.3"/>
<circle cx="1450.07" cy="727" r="7.3"/>
<circle cx="1443.76" cy="727" r="7.3"/>
<circle cx="1492.14" cy="724.15" r="7.3"/>
<circle cx="1480.92" cy="720.83" r="7.3"/>
<circle cx="1465.5" cy="718.45" r="7.3"/>
<circle cx="1492.84" cy="722.73" r="7.3"/>
<circle cx="1511.07" cy="722.73" r="7.3"/>
<circle cx="1420.62" cy="725.58" r="7.3"/>
<circle cx="1427.63" cy="727.95" r="7.3"/>
<circle cx="1438.15" cy="725.58" r="7.3"/>
<circle cx="1420.62" cy="721.18" r="7.3"/>
<circle cx="1424.13" cy="717.29" r="7.3"/>
<circle cx="1427.63" cy="719.14" r="7.3"/>
<circle cx="1431.14" cy="720.15" r="7.3"/>
<circle cx="1434.64" cy="718.44" r="7.3"/>
<circle cx="1438.15" cy="719.42" r="7.3"/>
<circle cx="1441.66" cy="716.48" r="7.3"/>
<circle cx="1445.16" cy="721.41" r="7.3"/>
<circle cx="1448.67" cy="719.3" r="7.3"/>
<circle cx="1452.17" cy="720.51" r="7.3"/>
<circle cx="1455.68" cy="719.05" r="7.3"/>
<circle cx="1459.19" cy="719.25" r="7.3"/>
<circle cx="1462.69" cy="723.13" r="7.3"/>
<circle cx="1466.2" cy="717.14" r="7.3"/>
<circle cx="1469.7" cy="719.55" r="7.3"/>
<circle cx="1473.21" cy="716.47" r="7.3"/>
<circle cx="1476.72" cy="718.8" r="7.3"/>
<circle cx="1480.22" cy="720.76" r="7.3"/>
<circle cx="1483.73" cy="719.07" r="7.3"/>
<circle cx="1487.23" cy="717.32" r="7.3"/>
<circle cx="1490.74" cy="717.71" r="7.3"/>
<circle cx="1494.25" cy="720.32" r="7.3"/>
<circle cx="1497.75" cy="716.29" r="7.3"/>
<circle cx="1501.26" cy="717.81" r="7.3"/>
<circle cx="1504.76" cy="716.79" r="7.3"/>
<circle cx="1508.27" cy="719.77" r="7.3"/>
<circle cx="1511.78" cy="717.58" r="7.3"/>
<circle cx="1515.28" cy="718.64" r="7.3"/>
<circle cx="1518.79" cy="713.7" r="7.3"/>
<circle cx="1522.29" cy="713.7" r="7.3"/>
<circle cx="1525.8" cy="713.7" r="7.3"/>
<circle cx="1529.31" cy="713.7" r="7.3"/>
<circle cx="1532.81" cy="713.7" r="7.3"/>
<circle cx="1536.32" cy="713.7" r="7.3"/>
<circle cx="1539.82" cy="713.7" r="7.3"/>
<circle cx="1543.33" cy="713.7" r="7.3"/>
<circle cx="1546.84" cy="713.7" r="7.3"/>
<circle cx="1550.34" cy="713.7" r="7.3"/>
<circle cx="1553.85" cy="713.7" r="7.3"/>
<circle cx="1557.35" cy="713.7" r="7.3"/>
<circle cx="1560.86" cy="713.7" r="7.3"/>
<circle cx="1564.37" cy="713.7" r="7.3"/>
<circle cx="1567.87" cy="713.7" r="7.3"/>
<circle cx="1571.38" cy="713.7" r="7.3"/>
<circle cx="1574.88" cy="713.7" r="7.3"/>
<circle cx="1578.39" cy="713.7" r="7.3"/>
<circle cx="1581.9" cy="713.7" r="7.3"/>
<circle cx="1585.4" cy="713.7" r="7.3"/>
<circle cx="1588.91" cy="713.7" r="7.3"/>
<circle cx="1592.41" cy="713.7" r="7.3"/>
<circle cx="1595.92" cy="713.7" r="7.3"/>
<circle cx="1599.43" cy="713.7" r="7.3"/>
<circle cx="1602.93" cy="713.7" r="7.3"/>
<circle cx="1606.44" cy="713.7" r="7.3"/>
<circle cx="1609.94" cy="713.7" r="7.3"/>
<circle cx="1613.45" cy="713.7" r="7.3"/>
<circle cx="1616.96" cy="713.7" r="7.3"/>
<circle cx="1620.46" cy="713.7" r="7.3"/>
<circle cx="1623.97" cy="713.7" r="7.3"/>
<circle cx="1627.47" cy="713.7" r="7.3"/>
<circle cx="1630.98" cy="713.7" r="7.3"/>
<circle cx="1634.49" cy="713.7" r="7.3"/>
<circle cx="1637.99" cy="713.7" r="7.3"/>
<circle cx="1641.5" cy="713.7" r="7.3"/>
<circle cx="1645" cy="713.7" r="7.3"/>
<circle cx="1648.51" cy="713.7" r="7.3"/>
<circle cx="1652.02" cy="713.7" r="7.3"/>
<circle cx="1655.52" cy="713.7" r="7.3"/>
<circle cx="1659.03" cy="713.7" r="7.3"/>
<circle cx="1662.53" cy="713.7" r="7.3"/>
<circle cx="1666.04" cy="713.7" r="7.3"/>
<circle cx="1669.55" cy="713.7" r="7.3"/>
<circle cx="1673.05" cy="713.7" r="7.3"/>
<circle cx="1676.56" cy="713.7" r="7.3"/>
<circle cx="1680.06" cy="713.7" r="7.3"/>
<circle cx="1683.57" cy="713.7" r="7.3"/>
<circle cx="1687.08" cy="713.7" r="7.3"/>
<circle cx="1690.58" cy="713.7" r="7.3"/>
<circle cx="1694.09" cy="713.7" r="7.3"/>
<circle cx="1697.59" cy="713.7" r="7.3"/>
<circle cx="1701.1" cy="713.7" r="7.3"/>
</g>
<g fill="#440154" fill-opacity="0.5">
<rect x="992.9" y="1181.7" width="14" height="14"/>
<rect x="996.76" y="1181.7" width="14" height="14"/>
<rect x="1000.61" y="1181.7" width="14" height="14"/>
<rect x="1004.47" y="1181.7" width="14" height="14"/>
<rect x="1008.33" y="1181.7" width="14" height="14"/>
<rect x="1012.18" y="1181.7" width="14" height="14"/>
<rect x="1016.04" y="1181.7" width="14" height="14"/>
<rect x="1019.9" y="1181.7" width="14" height="14"/>
<rect x="1023.75" y="1181.7" width="14" height="14"/>
<rect x="1027.61" y="1181.7" width="14" height="14"/>
<rect x="1031.47" y="1181.7" width="14" height="14"/>
<rect x="1035.32" y="1181.7" width="14" height="14"/>
<rect x="1039.18" y="1181.7" width="14" height="14"/>
<rect x="1043.04" y="1181.7" width="14" height="14"/>
<rect x="1046.89" y="1181.7" width="14" height="14"/>
<rect x="1050.75" y="1181.7" width="14" height="14"/>
<rect x="1054.61" y="1181.7" width="14" height="14"/>
<rect x="1058.46" y="1181.7" width="14" height="14"/>
<rect x="1062.32" y="1181.7" width="14" height="14"/>
<rect x="1066.18" y="1181.7" width="14" height="14"/>
<rect x="1070.03" y="1181.7" width="14" height="14"/>
<rect x="1073.89" y="1181.7" width="14" height="14"/>
<rect x="1077.75" y="1181.7" width="14" height="14"/>
<rect x="1081.6" y="1181.7" width="14" height="14"/>
<rect x="1085.46" y="1181.7" width="14" height="14"/>
<rect x="1089.32" y="1181.7" width="14" height="14"/>
<rect x="1093.17" y="1181.7" width="14" height="14"/>
<rect x="1097.03" y="1181.7" width="14" height="14"/>
<rect x="1100.88" y="1181.7" width="14" height="14"/>
<rect x="1104.74" y="1181.7" width="14" height="14"/>
<rect x="1108.6" y="1181.7" width="14" height="14"/>
<rect x="1112.45" y="1181.7" width="14" height="14"/>
<rect x="1116.31" y="1181.7" width="14" height="14"/>
<rect x="1120.17" y="1181.7" width="14" height="14"/>
<rect x="1124.02" y="1181.7" width="14" height="14"/>
<rect x="1127.88" y="1181.7" width="14" height="14"/>
<rect x="1131.74" y="1181.7" width="14" height="14"/>
<rect x="1135.59" y="1181.7" width="14" height="14"/>
<rect x="1139.45" y="1181.7" width="14" height="14"/>
<rect x="1143.31" y="1181.7" width="14" height="14"/>
<rect x="1147.16" y="1181.7" width="14" height="14"/>
<rect x="1151.02" y="1181.7" width="14" height="14"/>
<rect x="1154.88" y="1181.7" width="14" height="14"/>
<rect x="1158.73" y="1181.7" width="14" height="14"/>
<rect x="1162.59" y="1181.7" width="14" height="14"/>
<rect x="1166.45" y="1181.7" width="14" height="14"/>
<rect x="1170.3" y="1181.7" width="14" height="14"/>
<rect x="1174.16" y="1181.7" width="14" height="14"/>
<rect x="1178.02" y="1181.7" width="14" height="14"/>
<rect x="1181.87" y="1181.7" width="14" height="14"/>
<rect x="1185.73" y="1181.7" width="14" height="14"/>
<rect x="1189.59" y="1181.7" width="14" height="14"/>
<rect x="1193.44" y="1181.7" width="14" height="14"/>
<rect x="1197.3" y="1181.7" width="14" height="14"/>
<rect x="1201.16" y="1181.7" width="14" height="14"/>
<rect x="1205.01" y="1181.7" width="14" height="14"/>
<rect x="1208.87" y="1181.7" width="14" height="14"/>
<rect x="1212.73" y="1181.7" width="14" height="14"/>
<rect x="1216.58" y="1181.7" width="14" height="14"/>
<rect x="1220.44" y="1181.7" width="14" height="14"/>
<rect x="1224.3" y="1181.7" width="14" height="14"/>
<rect x="1228.15" y="1181.7" width="14" height="14"/>
<rect x="1232.01" y="1181.7" width="14" height="14"/>
<rect x="1235.87" y="1181.7" width="14" height="14"/>
<rect x="1239.72" y="1181.7" width="14" height="14"/>
<rect x="1243.58" y="1181.7" width="14" height="14"/>
<rect x="1247.44" y="1181.7" width="14" height="14"/>
<rect x="1251.29" y="1181.7" width="14" height="14"/>
<rect x="1255.15" y="1181.7" width="14" height="14"/>
<rect x="1259.01" y="1181.7" width="14" height="14"/>
<rect x="1262.86" y="1181.7" width="14" height="14"/>
<rect x="1266.72" y="1181.7" width="14" height="14"/>
<rect x="1270.58" y="1181.7" width="14" height="14"/>
<rect x="1274.43" y="1181.7" width="14" height="14"/>
<rect x="1278.29" y="1181.7" width="14" height="14"/>
<rect x="1282.14" y="1181.7" width="14" height="14"/>
<rect x="1286" y="1181.7" width="14" height="14"/>
<rect x="1289.86" y="1181.7" width="14" height="14"/>
<rect x="1293.71" y="1181.7" width="14" height="14"/>
<rect x="1297.57" y="1181.7" width="14" height="14"/>
<rect x="1301.43" y="1181.7" width="14" height="14"/>
<rect x="1305.28" y="1181.7" width="14" height="14"/>
<rect x="1309.14" y="1181.7" width="14" height="14"/>
<rect x="1313" y="1181.7" width="14" height="14"/>
<rect x="1316.85" y="1181.7" width="14" height="14"/>
<rect x="1320.71" y="1181.7" width="14" height="14"/>
<rect x="1324.57" y="1181.7" width="14" height="14"/>
<rect x="1328.42" y="1181.7" width="14" height="14"/>
<rect x="1332.28" y="1181.7" width="14" height="14"/>
<rect x="1338.59" y="1181.7" width="14" height="14"/>
<rect x="1345.6" y="1181.7" width="14" height="14"/>
<rect x="1366.64" y="1181.7" width="14" height="14"/>
<rect x="1375.05" y="1181.7" width="14" height="14"/>
<rect x="1411.52" y="1181.7" width="14" height="14"/>
<rect x="1415.72" y="1181.7" width="14" height="14"/>
<rect x="1063.02" y="706.7" width="14" height="14"/>
<rect x="1102.99" y="706.7" width="14" height="14"/>
<rect x="1107.2" y="706.7" width="14" height="14"/>
<rect x="1206.06" y="706.7" width="14" height="14"/>
<rect x="1256.55" y="706.7" width="14" height="14"/>
<rect x="1263.56" y="706.7" width="14" height="14"/>
<rect x="1269.87" y="706.7" width="14" height="14"/>
<rect x="1276.18" y="706.7" width="14" height="14"/>
<rect x="1281.79" y="706.7" width="14" height="14"/>
<rect x="1286.7" y="706.7" width="14" height="14"/>
<rect x="1291.61" y="706.7" width="14" height="14"/>
<rect x="1295.47" y="706.7" width="14" height="14"/>
<rect x="1299.32" y="706.7" width="14" height="14"/>
<rect x="1303.18" y="706.7" width="14" height="14"/>
<rect x="1307.04" y="706.7" width="14" height="14"/>
<rect x="1310.89" y="706.7" width="14" height="14"/>
<rect x="1314.75" y="706.7" width="14" height="14"/>
<rect x="1318.61" y="706.7" width="14" height="14"/>
<rect x="1322.46" y="706.7" width="14" height="14"/>
<rect x="1326.32" y="706.7" width="14" height="14"/>
<rect x="1330.18" y="706.7" width="14" height="14"/>
<rect x="1334.03" y="706.7" width="14" height="14"/>
<rect x="1337.89" y="706.7" width="14" height="14"/>
<rect x="1341.75" y="706.7" width="14" height="14"/>
<rect x="1345.6" y="706.7" width="14" height="14"/>
<rect x="1349.46" y="706.7" width="14" height="14"/>
<rect x="1353.32" y="706.7" width="14" height="14"/>
<rect x="1357.17" y="706.7" width="14" height="14"/>
<rect x="1361.03" y="706.7" width="14" height="14"/>
<rect x="1364.89" y="706.7" width="14" height="14"/>
<rect x="1368.74" y="706.7" width="14" height="14"/>
<rect x="1372.6" y="706.7" width="14" height="14"/>
<rect x="1376.46" y="706.7" width="14" height="14"/>
<rect x="1380.31" y="706.7" width="14" height="14"/>
<rect x="1384.17" y="706.7" width="14" height="14"/>
<rect x="1388.03" y="706.7" width="14" height="14"/>
<rect x="1391.88" y="706.7" width="14" height="14"/>
<rect x="1395.74" y="706.7" width="14" height="14"/>
<rect x="1399.6" y="706.7" width="14" height="14"/>
<rect x="1403.45" y="706.7" width="14" height="14"/>
<rect x="1407.31" y="706.7" width="14" height="14"/>
<rect x="1411.17" y="706.7" width="14" height="14"/>
<rect x="1415.02" y="706.7" width="14" height="14"/>
<rect x="1418.88" y="706.7" width="14" height="14"/>
<rect x="1422.74" y="706.7" width="14" height="14"/>
<rect x="1426.59" y="706.7" width="14" height="14"/>
<rect x="1430.45" y="706.7" width="14" height="14"/>
<rect x="1434.31" y="706.7" width="14" height="14"/>
<rect x="1438.16" y="706.7" width="14" height="14"/>
<rect x="1442.02" y="706.7" width="14" height="14"/>
<rect x="1445.88" y="706.7" width="14" height="14"/>
<rect x="1449.73" y="706.7" width="14" height="14"/>
<rect x="1453.59" y="706.7" width="14" height="14"/>
<rect x="1457.44" y="706.7" width="14" height="14"/>
<rect x="1461.3" y="706.7" width="14" height="14"/>
<rect x="1465.16" y="706.7" width="14" height="14"/>
<rect x="1469.01" y="706.7" width="14" height="14"/>
<rect x="1472.87" y="706.7" width="14" height="14"/>
<rect x="1476.73" y="706.7" width="14" height="14"/>
<rect x="1480.58" y="706.7" width="14" height="14"/>
<rect x="1484.44" y="706.7" width="14" height="14"/>
<rect x="1488.3" y="706.7" width="14" height="14"/>
<rect x="1492.15" y="706.7" width="14" height="14"/>
<rect x="1496.01" y="706.7" width="14" height="14"/>
<rect x="1499.87" y="706.7" width="14" height="14"/>
<rect x="1503.72" y="706.7" width="14" height="14"/>
<rect x="1507.58" y="706.7" width="14" height="14"/>
<rect x="1511.44" y="706.7" width="14" height="14"/>
<rect x="1515.29" y="706.7" width="14" height="14"/>
<rect x="1519.15" y="706.7" width="14" height="14"/>
<rect x="1523.01" y="706.7" width="14" height="14"/>
<rect x="1526.86" y="706.7" width="14" height="14"/>
<rect x="1530.72" y="706.7" width="14" height="14"/>
<rect x="1534.58" y="706.7" width="14" height="14"/>
<rect x="1538.43" y="706.7" width="14" height="14"/>
<rect x="1542.29" y="706.7" width="14" height="14"/>
<rect x="1546.15" y="706.7" width="14" height="14"/>
<rect x="1550" y="706.7" width="14" height="14"/>
<rect x="1553.86" y="706.7" width="14" height="14"/>
<rect x="1557.72" y="706.7" width="14" height="14"/>
<rect x="1561.57" y="706.7" width="14" height="14"/>
<rect x="1565.43" y="706.7" width="14" height="14"/>
<rect x="1569.29" y="706.7" width="14" height="14"/>
<rect x="1573.14" y="706.7" width="14" height="14"/>
<rect x="1577" y="706.7" width="14" height="14"/>
<rect x="1580.86" y="706.7" width="14" height="14"/>
<rect x="1584.71" y="706.7" width="14" height="14"/>
<rect x="1588.57" y="706.7" width="14" height="14"/>
<rect x="1592.43" y="706.7" width="14" height="14"/>
<rect x="1596.28" y="706.7" width="14" height="14"/>
<rect x="1600.14" y="706.7" width="14" height="14"/>
<rect x="1604" y="706.7" width="14" height="14"/>
<rect x="1607.85" y="706.7" width="14" height="14"/>
<rect x="1611.71" y="706.7" width="14" height="14"/>
<rect x="1615.57" y="706.7" width="14" height="14"/>
<rect x="1619.42" y="706.7" width="14" height="14"/>
<rect x="1623.28" y="706.7" width="14" height="14"/>
<rect x="1627.14" y="706.7" width="14" height="14"/>
<rect x="1630.99" y="706.7" width="14" height="14"/>
<rect x="1634.85" y="706.7" width="14" height="14"/>
<rect x="1638.71" y="706.7" width="14" height="14"/>
<rect x="1642.56" y="706.7" width="14" height="14"/>
<rect x="1646.42" y="706.7" width="14" height="14"/>
<rect x="1650.28" y="706.7" width="14" height="14"/>
<rect x="1654.13" y="706.7" width="14" height="14"/>
<rect x="1657.99" y="706.7" width="14" height="14"/>
<rect x="1661.84" y="706.7" width="14" height="14"/>
<rect x="1665.7" y="706.7" width="14" height="14"/>
<rect x="1669.56" y="706.7" width="14" height="14"/>
<rect x="1673.41" y="706.7" width="14" height="14"/>
<rect x="1677.27" y="706.7" width="14" height="14"/>
<rect x="1681.13" y="706.7" width="14" height="14"/>
<rect x="1684.98" y="706.7" width="14" height="14"/>
<rect x="1688.84" y="706.7" width="14" height="14"/>
<rect x="1692.7" y="706.7" width="14" height="14"/>
</g>
</g>
<rect x="999.9" y="690" width="701.2" height="523" fill="none" stroke="#000000" stroke-width="2.0"/>
<text x="999.9" y="1243.6" font-family="'DejaVu Sans','Liberation Sans',sans-serif" fill="#000000" font-size="25.3" text-anchor="middle">0</text>
<text x="1140.14" y="1243.6" font-family="'DejaVu Sans','Liberation Sans',sans-serif" fill="#000000" font-size="25.3" text-anchor="middle">2</text>
<text x="1280.38" y="1243.6" font-family="'DejaVu Sans','Liberation Sans',sans-serif" fill="#000000" font-size="25.3" text-anchor="middle">4</text>
<text x="1420.62" y="1243.6" font-family="'DejaVu Sans','Liberation Sans',sans-serif" fill="#000000" font-size="25.3" text-anchor="middle">6</text>
<text x="1560.86" y="1243.6" font-family="'DejaVu Sans','Liberation Sans',sans-serif" fill="#000000" font-size="25.3" text-anchor="middle">8</text>
<text x="1701.1" y="1243.6" font-family="'DejaVu Sans','Liberation Sans',sans-serif" fill="#000000" font-size="25.3" text-anchor="middle">10</text>
<text x="986.5" y="1198.2" font-family="'DejaVu Sans','Liberation Sans',sans-serif" fill="#000000" font-size="25.3" text-anchor="end">0.00</text>
<text x="986.5" y="1079.45" font-family="'DejaVu Sans','Liberation Sans',sans-serif" fill="#000000" font-size="25.3" text-anchor="end">0.25</text>
<text x="986.5" y="960.7" font-family="'DejaVu Sans','Liberation Sans',sans-serif" fill="#000000" font-size="25.3" text-anchor="end">0.50</text>
<text x="986.5" y="841.95" font-family="'DejaVu Sans','Liberation Sans',sans-serif" fill="#000000" font-size="25.3" text-anchor="end">0.75</text>
<text x="986.5" y="723.2" font-family="'DejaVu Sans','Liberation Sans',sans-serif" fill="#000000" font-size="25.3" text-anchor="end">1.00</text>
<text x="1350.5" y="1282.2" font-family="'DejaVu Sans','Liberation Sans',sans-serif" fill="#000000" font-size="25.3" text-anchor="middle">Applied Field (mT)</text>
<text transform="translate(902.7,952) rotate(-90)" font-family="'DejaVu Sans','Liberation Sans',sans-serif" fill="#000000" font-size="25.3" text-anchor="middle">Averaged Weight, <tspan font-style="italic">w̄</tspan><tspan font-size="17.71" font-style="italic" dy="4.05">ij</tspan></text>
<rect x="1540.4" y="1094.7" width="14.6" height="14.6" fill="#440154" fill-opacity="0.5"/>
<path d="M1547.8 1128l6.8 11l-6.8 11l-6.8 -11z" fill="#3b528b" fill-opacity="0.5"/>
<circle cx="1547.8" cy="1175.9" r="7.3" fill="#21918c" fill-opacity="0.5"/>
<text x="1592.4" y="1110.8" font-family="'DejaVu Sans','Liberation Sans',sans-serif" fill="#000000" font-size="25.3" text-anchor="start">K=1</text>
<text x="1592.4" y="1147.6" font-family="'DejaVu Sans','Liberation Sans',sans-serif" fill="#000000" font-size="25.3" text-anchor="start">K=4</text>
<text x="1592.4" y="1184.7" font-family="'DejaVu Sans','Liberation Sans',sans-serif" fill="#000000" font-size="25.3" text-anchor="start">K=128</text>
</svg>
</body></html>
